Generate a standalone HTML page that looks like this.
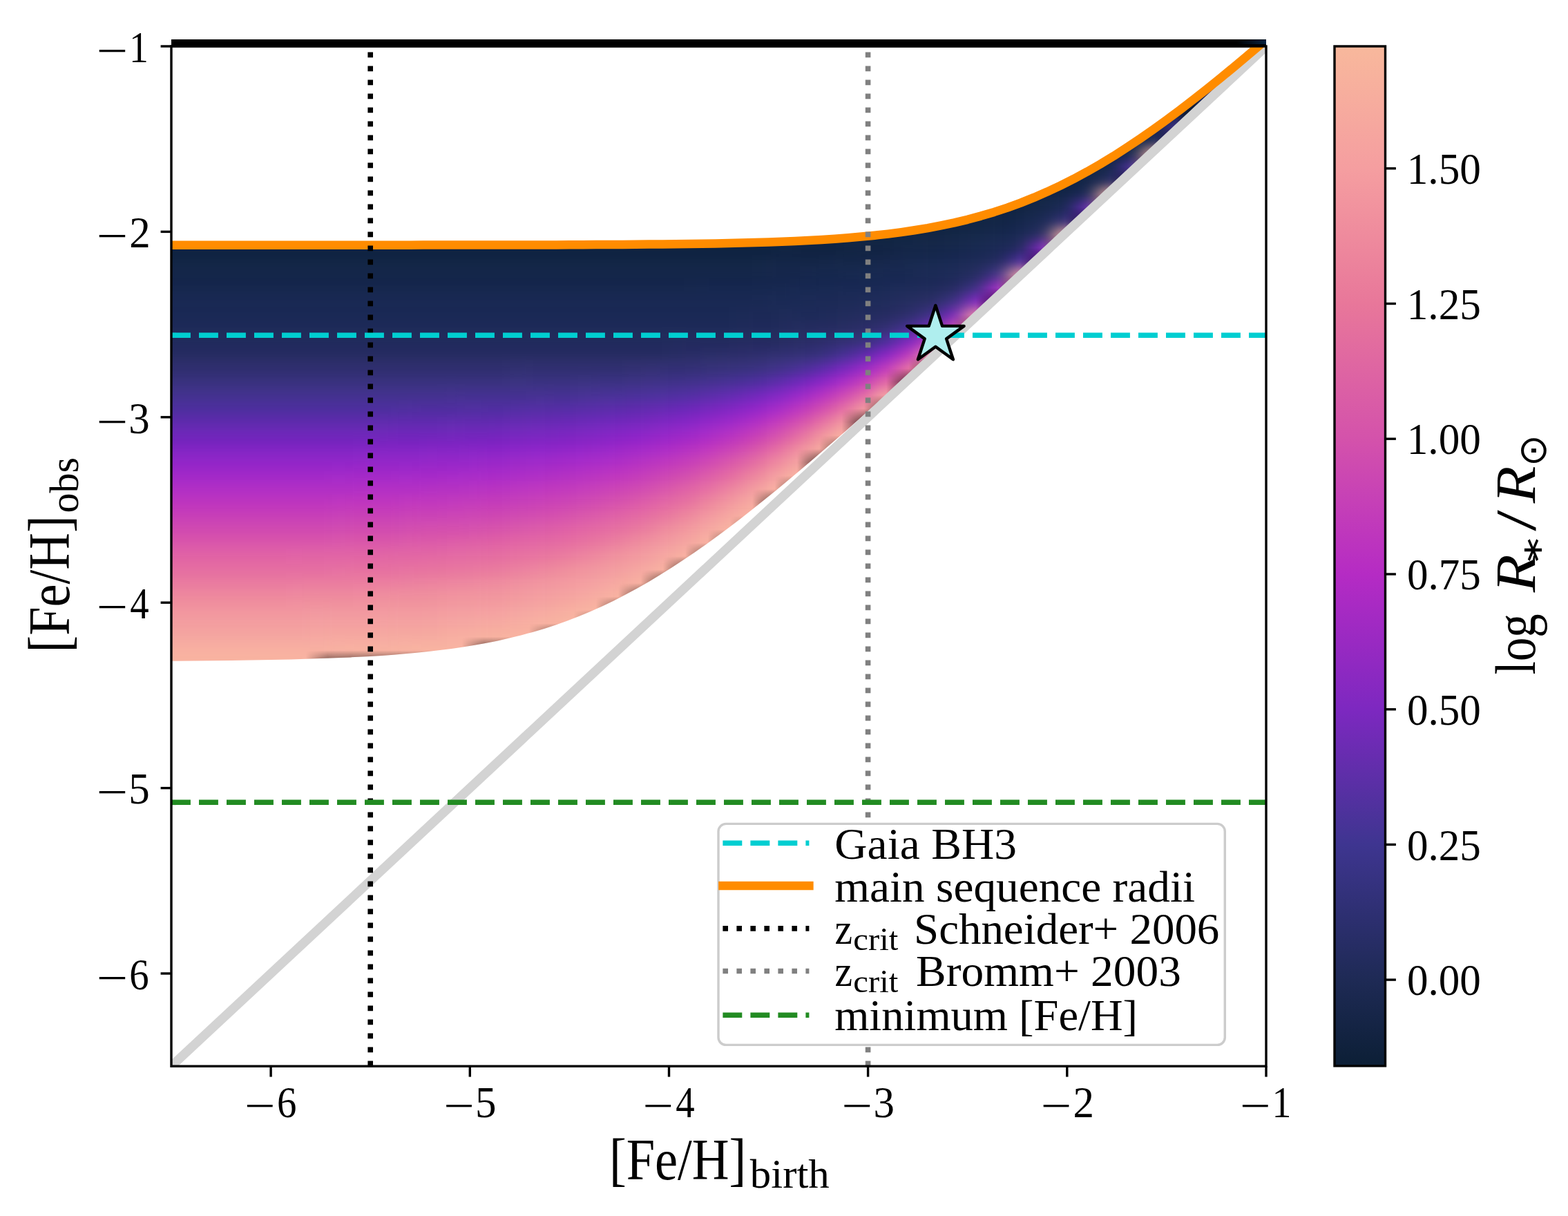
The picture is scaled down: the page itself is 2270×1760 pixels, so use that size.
<!DOCTYPE html><html><head><meta charset="utf-8"><title>[Fe/H] obs vs birth</title><style>html,body{margin:0;padding:0;background:#fff;overflow:hidden}svg{display:block}text{font-family:"Liberation Serif",serif;fill:#000}</style></head><body>
<svg xmlns="http://www.w3.org/2000/svg" width="2270" height="1760" viewBox="0 0 2270 1760">
<defs>
<clipPath id="ax"><rect x="248.0" y="67.0" width="1585.0" height="1476.2"/></clipPath>
<linearGradient id="cb" x1="0" y1="67.0" x2="0" y2="1542.8" gradientUnits="userSpaceOnUse"><stop offset="-0.0001" stop-color="#f8b89c"/><stop offset="0.1198" stop-color="#f59ea0"/><stop offset="0.2524" stop-color="#e8779a"/><stop offset="0.3850" stop-color="#d452ab"/><stop offset="0.5177" stop-color="#b52bc4"/><stop offset="0.6503" stop-color="#7d28c0"/><stop offset="0.7829" stop-color="#3e3590"/><stop offset="0.9155" stop-color="#1e2a55"/><stop offset="0.9994" stop-color="#0c1f36"/></linearGradient>
</defs>
<rect width="2270" height="1760" fill="#fff"/>
<clipPath id="reg"><path d="M248 354.7 L334.5 354.7 L420.9 354.7 L507.4 354.7 L536.2 354.7 L553 354.7 L569.7 354.7 L586.5 354.7 L603.3 354.7 L620.1 354.6 L636.9 354.6 L653.6 354.6 L670.4 354.6 L687.2 354.6 L704 354.6 L720.8 354.5 L737.5 354.5 L754.3 354.5 L771.1 354.4 L787.9 354.4 L804.7 354.4 L821.4 354.3 L838.2 354.2 L855 354.2 L871.8 354.1 L888.6 354 L905.3 353.9 L922.1 353.8 L938.9 353.6 L955.7 353.5 L972.5 353.3 L989.2 353.1 L1006 352.9 L1022.8 352.6 L1039.6 352.3 L1056.4 352 L1073.1 351.6 L1089.9 351.1 L1106.7 350.6 L1123.5 350.1 L1140.3 349.4 L1157 348.7 L1173.8 347.8 L1190.6 346.9 L1207.4 345.8 L1224.2 344.6 L1241 343.2 L1257.7 341.6 L1274.5 339.8 L1291.3 337.9 L1308.1 335.6 L1324.9 333.1 L1341.6 330.3 L1358.4 327.2 L1375.2 323.8 L1392 319.9 L1408.8 315.7 L1425.5 311 L1442.3 305.9 L1459.1 300.3 L1475.9 294.2 L1492.7 287.6 L1509.4 280.5 L1526.2 272.9 L1543 264.8 L1559.8 256.1 L1576.6 246.9 L1593.3 237.3 L1610.1 227.1 L1626.9 216.5 L1643.7 205.4 L1660.5 193.9 L1677.2 182 L1694 169.8 L1710.8 157.2 L1727.6 144.3 L1744.4 131.1 L1761.1 117.6 L1777.9 103.9 L1794.7 90 L1811.5 75.9 L1828.3 61.6 L1845 47.1 L1861.8 32.6 L1861.8 36.8 L1845 52.4 L1828.3 68 L1811.5 83.6 L1794.7 99.3 L1777.9 114.9 L1761.1 130.5 L1744.4 146.1 L1727.6 161.7 L1710.8 177.3 L1694 192.9 L1677.2 208.6 L1660.5 224.2 L1643.7 239.7 L1626.9 255.3 L1610.1 270.9 L1593.3 286.5 L1576.6 302.1 L1559.8 317.7 L1543 333.2 L1526.2 348.8 L1509.4 364.3 L1492.7 379.8 L1475.9 395.3 L1459.1 410.8 L1442.3 426.3 L1425.5 441.8 L1408.8 457.2 L1392 472.6 L1375.2 488 L1358.4 503.3 L1341.6 518.6 L1324.9 533.8 L1308.1 549 L1291.3 564.1 L1274.5 579.2 L1257.7 594.2 L1241 609.1 L1224.2 623.9 L1207.4 638.5 L1190.6 653.1 L1173.8 667.5 L1157 681.7 L1140.3 695.8 L1123.5 709.7 L1106.7 723.3 L1089.9 736.7 L1073.1 749.9 L1056.4 762.7 L1039.6 775.2 L1022.8 787.4 L1006 799.2 L989.2 810.6 L972.5 821.6 L955.7 832.1 L938.9 842.2 L922.1 851.8 L905.3 860.8 L888.6 869.4 L871.8 877.4 L855 884.9 L838.2 891.9 L821.4 898.4 L804.7 904.4 L787.9 909.9 L771.1 914.9 L754.3 919.4 L737.5 923.6 L720.8 927.4 L704 930.7 L687.2 933.8 L670.4 936.5 L653.6 939 L636.9 941.1 L620.1 943.1 L603.3 944.8 L586.5 946.3 L569.7 947.7 L553 948.9 L536.2 949.9 L507.4 951.4 L420.9 954.5 L334.5 956 L248 956.8Z"/></clipPath>
<filter id="bl" filterUnits="userSpaceOnUse" x="188.0" y="7.0" width="1705.0" height="1596.2" color-interpolation-filters="sRGB"><feGaussianBlur stdDeviation="13.21 7.93"/></filter>
<linearGradient id="ty" x1="0" y1="0" x2="0" y2="1"><stop offset="0" stop-color="#000" stop-opacity="0"/><stop offset="0.5" stop-color="#000" stop-opacity="1"/><stop offset="1" stop-color="#000" stop-opacity="0"/></linearGradient>
<linearGradient id="txg" x1="0" y1="0" x2="1" y2="0"><stop offset="0" stop-color="#000"/><stop offset="0.5" stop-color="#fff"/><stop offset="1" stop-color="#000"/></linearGradient>
<mask id="tx" maskContentUnits="objectBoundingBox"><rect width="1" height="1" fill="url(#txg)"/></mask>
<g clip-path="url(#ax)"><g clip-path="url(#reg)"><g filter="url(#bl)">
<rect x="167.1" y="989.63" width="291.1" height="19.42" fill="#f8b4a0"/>
<rect x="458.3" y="989.63" width="97.0" height="19.42" fill="#f8b0a0"/>
<rect x="555.3" y="989.63" width="64.7" height="19.42" fill="#f8b2a0"/>
<rect x="620.0" y="989.63" width="64.7" height="19.42" fill="#f8b4a0"/>
<rect x="684.7" y="989.63" width="32.3" height="19.42" fill="#f8b1a0"/>
<rect x="717.0" y="989.63" width="194.1" height="19.42" fill="#f8b3a0"/>
<rect x="911.1" y="989.63" width="129.4" height="19.42" fill="#f8b1a0"/>
<rect x="1040.5" y="989.63" width="64.7" height="19.42" fill="#f8b4a0"/>
<rect x="1105.2" y="989.63" width="32.3" height="19.42" fill="#f8afa0"/>
<rect x="1137.5" y="989.63" width="32.3" height="19.42" fill="#f8b4a0"/>
<rect x="1169.9" y="989.63" width="32.3" height="19.42" fill="#f6a9a0"/>
<rect x="1202.2" y="989.63" width="32.3" height="19.42" fill="#f8b2a0"/>
<rect x="1234.6" y="989.63" width="32.3" height="19.42" fill="#f2989e"/>
<rect x="1266.9" y="989.63" width="32.3" height="19.42" fill="#f6a9a0"/>
<rect x="1299.3" y="989.63" width="32.3" height="19.42" fill="#e7719f"/>
<rect x="1331.6" y="989.63" width="32.3" height="19.42" fill="#f39d9f"/>
<rect x="1364.0" y="989.63" width="32.3" height="19.42" fill="#cc44b3"/>
<rect x="1396.3" y="989.63" width="32.3" height="19.42" fill="#f1949e"/>
<rect x="1428.7" y="989.63" width="32.3" height="19.42" fill="#a127c8"/>
<rect x="1461.0" y="989.63" width="32.3" height="19.42" fill="#f7aaa0"/>
<rect x="1493.4" y="989.63" width="32.3" height="19.42" fill="#8023c3"/>
<rect x="1525.7" y="989.63" width="32.3" height="19.42" fill="#f8b4a0"/>
<rect x="1558.1" y="989.63" width="32.3" height="19.42" fill="#6227b1"/>
<rect x="1590.4" y="989.63" width="32.3" height="19.42" fill="#f8b4a0"/>
<rect x="1622.7" y="989.63" width="32.3" height="19.42" fill="#4b2d9d"/>
<rect x="1655.1" y="989.63" width="32.3" height="19.42" fill="#f8b4a0"/>
<rect x="1687.4" y="989.63" width="32.3" height="19.42" fill="#452e93"/>
<rect x="1719.8" y="989.63" width="32.3" height="19.42" fill="#13254b"/>
<rect x="1752.1" y="989.63" width="32.3" height="19.42" fill="#542ba5"/>
<rect x="1784.5" y="989.63" width="32.3" height="19.42" fill="#0f2241"/>
<rect x="1816.8" y="989.63" width="97.0" height="19.42" fill="#f8b4a0"/>
<rect x="167.1" y="970.20" width="291.1" height="19.42" fill="#f8b4a0"/>
<rect x="458.3" y="970.20" width="97.0" height="19.42" fill="#f8b0a0"/>
<rect x="555.3" y="970.20" width="64.7" height="19.42" fill="#f8b2a0"/>
<rect x="620.0" y="970.20" width="64.7" height="19.42" fill="#f8b4a0"/>
<rect x="684.7" y="970.20" width="32.3" height="19.42" fill="#f8b1a0"/>
<rect x="717.0" y="970.20" width="194.1" height="19.42" fill="#f8b3a0"/>
<rect x="911.1" y="970.20" width="129.4" height="19.42" fill="#f8b1a0"/>
<rect x="1040.5" y="970.20" width="64.7" height="19.42" fill="#f8b4a0"/>
<rect x="1105.2" y="970.20" width="32.3" height="19.42" fill="#f8afa0"/>
<rect x="1137.5" y="970.20" width="32.3" height="19.42" fill="#f8b4a0"/>
<rect x="1169.9" y="970.20" width="32.3" height="19.42" fill="#f6a9a0"/>
<rect x="1202.2" y="970.20" width="32.3" height="19.42" fill="#f8b2a0"/>
<rect x="1234.6" y="970.20" width="32.3" height="19.42" fill="#f2989e"/>
<rect x="1266.9" y="970.20" width="32.3" height="19.42" fill="#f6a9a0"/>
<rect x="1299.3" y="970.20" width="32.3" height="19.42" fill="#e7719f"/>
<rect x="1331.6" y="970.20" width="32.3" height="19.42" fill="#f39d9f"/>
<rect x="1364.0" y="970.20" width="32.3" height="19.42" fill="#cc44b3"/>
<rect x="1396.3" y="970.20" width="32.3" height="19.42" fill="#f1949e"/>
<rect x="1428.7" y="970.20" width="32.3" height="19.42" fill="#a127c8"/>
<rect x="1461.0" y="970.20" width="32.3" height="19.42" fill="#f7aaa0"/>
<rect x="1493.4" y="970.20" width="32.3" height="19.42" fill="#8023c3"/>
<rect x="1525.7" y="970.20" width="32.3" height="19.42" fill="#f8b4a0"/>
<rect x="1558.1" y="970.20" width="32.3" height="19.42" fill="#6227b1"/>
<rect x="1590.4" y="970.20" width="32.3" height="19.42" fill="#f8b4a0"/>
<rect x="1622.7" y="970.20" width="32.3" height="19.42" fill="#4b2d9d"/>
<rect x="1655.1" y="970.20" width="32.3" height="19.42" fill="#f8b4a0"/>
<rect x="1687.4" y="970.20" width="32.3" height="19.42" fill="#452e93"/>
<rect x="1719.8" y="970.20" width="32.3" height="19.42" fill="#13254b"/>
<rect x="1752.1" y="970.20" width="32.3" height="19.42" fill="#542ba5"/>
<rect x="1784.5" y="970.20" width="32.3" height="19.42" fill="#0f2241"/>
<rect x="1816.8" y="970.20" width="97.0" height="19.42" fill="#f8b4a0"/>
<rect x="167.1" y="950.78" width="291.1" height="19.42" fill="#f8b4a0"/>
<rect x="458.3" y="950.78" width="97.0" height="19.42" fill="#f8b0a0"/>
<rect x="555.3" y="950.78" width="64.7" height="19.42" fill="#f8b2a0"/>
<rect x="620.0" y="950.78" width="64.7" height="19.42" fill="#f8b4a0"/>
<rect x="684.7" y="950.78" width="32.3" height="19.42" fill="#f8b1a0"/>
<rect x="717.0" y="950.78" width="194.1" height="19.42" fill="#f8b3a0"/>
<rect x="911.1" y="950.78" width="129.4" height="19.42" fill="#f8b1a0"/>
<rect x="1040.5" y="950.78" width="64.7" height="19.42" fill="#f8b4a0"/>
<rect x="1105.2" y="950.78" width="32.3" height="19.42" fill="#f8afa0"/>
<rect x="1137.5" y="950.78" width="32.3" height="19.42" fill="#f8b4a0"/>
<rect x="1169.9" y="950.78" width="32.3" height="19.42" fill="#f6a9a0"/>
<rect x="1202.2" y="950.78" width="32.3" height="19.42" fill="#f8b2a0"/>
<rect x="1234.6" y="950.78" width="32.3" height="19.42" fill="#f2989e"/>
<rect x="1266.9" y="950.78" width="32.3" height="19.42" fill="#f6a9a0"/>
<rect x="1299.3" y="950.78" width="32.3" height="19.42" fill="#e7719f"/>
<rect x="1331.6" y="950.78" width="32.3" height="19.42" fill="#f39d9f"/>
<rect x="1364.0" y="950.78" width="32.3" height="19.42" fill="#cc44b3"/>
<rect x="1396.3" y="950.78" width="32.3" height="19.42" fill="#f1949e"/>
<rect x="1428.7" y="950.78" width="32.3" height="19.42" fill="#a127c8"/>
<rect x="1461.0" y="950.78" width="32.3" height="19.42" fill="#f7aaa0"/>
<rect x="1493.4" y="950.78" width="32.3" height="19.42" fill="#8023c3"/>
<rect x="1525.7" y="950.78" width="32.3" height="19.42" fill="#f8b4a0"/>
<rect x="1558.1" y="950.78" width="32.3" height="19.42" fill="#6227b1"/>
<rect x="1590.4" y="950.78" width="32.3" height="19.42" fill="#f8b4a0"/>
<rect x="1622.7" y="950.78" width="32.3" height="19.42" fill="#4b2d9d"/>
<rect x="1655.1" y="950.78" width="32.3" height="19.42" fill="#f8b4a0"/>
<rect x="1687.4" y="950.78" width="32.3" height="19.42" fill="#452e93"/>
<rect x="1719.8" y="950.78" width="32.3" height="19.42" fill="#13254b"/>
<rect x="1752.1" y="950.78" width="32.3" height="19.42" fill="#542ba5"/>
<rect x="1784.5" y="950.78" width="32.3" height="19.42" fill="#0f2241"/>
<rect x="1816.8" y="950.78" width="97.0" height="19.42" fill="#f8b4a0"/>
<rect x="167.1" y="931.35" width="323.5" height="19.42" fill="#f8afa0"/>
<rect x="490.6" y="931.35" width="97.0" height="19.42" fill="#f8b1a0"/>
<rect x="587.6" y="931.35" width="97.0" height="19.42" fill="#f8b3a0"/>
<rect x="684.7" y="931.35" width="32.3" height="19.42" fill="#f8b1a0"/>
<rect x="717.0" y="931.35" width="194.1" height="19.42" fill="#f8b3a0"/>
<rect x="911.1" y="931.35" width="129.4" height="19.42" fill="#f8b1a0"/>
<rect x="1040.5" y="931.35" width="64.7" height="19.42" fill="#f8b4a0"/>
<rect x="1105.2" y="931.35" width="32.3" height="19.42" fill="#f8afa0"/>
<rect x="1137.5" y="931.35" width="32.3" height="19.42" fill="#f8b4a0"/>
<rect x="1169.9" y="931.35" width="32.3" height="19.42" fill="#f6a9a0"/>
<rect x="1202.2" y="931.35" width="32.3" height="19.42" fill="#f8b2a0"/>
<rect x="1234.6" y="931.35" width="32.3" height="19.42" fill="#f2989e"/>
<rect x="1266.9" y="931.35" width="32.3" height="19.42" fill="#f6a9a0"/>
<rect x="1299.3" y="931.35" width="32.3" height="19.42" fill="#e7719f"/>
<rect x="1331.6" y="931.35" width="32.3" height="19.42" fill="#f39d9f"/>
<rect x="1364.0" y="931.35" width="32.3" height="19.42" fill="#cc44b3"/>
<rect x="1396.3" y="931.35" width="32.3" height="19.42" fill="#f1949e"/>
<rect x="1428.7" y="931.35" width="32.3" height="19.42" fill="#a127c8"/>
<rect x="1461.0" y="931.35" width="32.3" height="19.42" fill="#f7aaa0"/>
<rect x="1493.4" y="931.35" width="32.3" height="19.42" fill="#8023c3"/>
<rect x="1525.7" y="931.35" width="32.3" height="19.42" fill="#f8b4a0"/>
<rect x="1558.1" y="931.35" width="32.3" height="19.42" fill="#6227b1"/>
<rect x="1590.4" y="931.35" width="32.3" height="19.42" fill="#f8b4a0"/>
<rect x="1622.7" y="931.35" width="32.3" height="19.42" fill="#4b2d9d"/>
<rect x="1655.1" y="931.35" width="32.3" height="19.42" fill="#f8b4a0"/>
<rect x="1687.4" y="931.35" width="32.3" height="19.42" fill="#452e93"/>
<rect x="1719.8" y="931.35" width="32.3" height="19.42" fill="#13254b"/>
<rect x="1752.1" y="931.35" width="32.3" height="19.42" fill="#542ba5"/>
<rect x="1784.5" y="931.35" width="32.3" height="19.42" fill="#0f2241"/>
<rect x="1816.8" y="931.35" width="97.0" height="19.42" fill="#f8b4a0"/>
<rect x="167.1" y="911.93" width="291.1" height="19.42" fill="#f5a6a0"/>
<rect x="458.3" y="911.93" width="97.0" height="19.42" fill="#f6a8a0"/>
<rect x="555.3" y="911.93" width="64.7" height="19.42" fill="#f6aaa0"/>
<rect x="620.0" y="911.93" width="32.3" height="19.42" fill="#f7aca0"/>
<rect x="652.3" y="911.93" width="32.3" height="19.42" fill="#f8aea0"/>
<rect x="684.7" y="911.93" width="32.3" height="19.42" fill="#f8b1a0"/>
<rect x="717.0" y="911.93" width="194.1" height="19.42" fill="#f8b3a0"/>
<rect x="911.1" y="911.93" width="129.4" height="19.42" fill="#f8b1a0"/>
<rect x="1040.5" y="911.93" width="64.7" height="19.42" fill="#f8b4a0"/>
<rect x="1105.2" y="911.93" width="32.3" height="19.42" fill="#f8afa0"/>
<rect x="1137.5" y="911.93" width="32.3" height="19.42" fill="#f8b4a0"/>
<rect x="1169.9" y="911.93" width="32.3" height="19.42" fill="#f6a9a0"/>
<rect x="1202.2" y="911.93" width="32.3" height="19.42" fill="#f8b2a0"/>
<rect x="1234.6" y="911.93" width="32.3" height="19.42" fill="#f2989e"/>
<rect x="1266.9" y="911.93" width="32.3" height="19.42" fill="#f6a9a0"/>
<rect x="1299.3" y="911.93" width="32.3" height="19.42" fill="#e7719f"/>
<rect x="1331.6" y="911.93" width="32.3" height="19.42" fill="#f39d9f"/>
<rect x="1364.0" y="911.93" width="32.3" height="19.42" fill="#cc44b3"/>
<rect x="1396.3" y="911.93" width="32.3" height="19.42" fill="#f1949e"/>
<rect x="1428.7" y="911.93" width="32.3" height="19.42" fill="#a127c8"/>
<rect x="1461.0" y="911.93" width="32.3" height="19.42" fill="#f7aaa0"/>
<rect x="1493.4" y="911.93" width="32.3" height="19.42" fill="#8023c3"/>
<rect x="1525.7" y="911.93" width="32.3" height="19.42" fill="#f8b4a0"/>
<rect x="1558.1" y="911.93" width="32.3" height="19.42" fill="#6227b1"/>
<rect x="1590.4" y="911.93" width="32.3" height="19.42" fill="#f8b4a0"/>
<rect x="1622.7" y="911.93" width="32.3" height="19.42" fill="#4b2d9d"/>
<rect x="1655.1" y="911.93" width="32.3" height="19.42" fill="#f8b4a0"/>
<rect x="1687.4" y="911.93" width="32.3" height="19.42" fill="#452e93"/>
<rect x="1719.8" y="911.93" width="32.3" height="19.42" fill="#13254b"/>
<rect x="1752.1" y="911.93" width="32.3" height="19.42" fill="#542ba5"/>
<rect x="1784.5" y="911.93" width="32.3" height="19.42" fill="#0f2241"/>
<rect x="1816.8" y="911.93" width="97.0" height="19.42" fill="#f8b4a0"/>
<rect x="167.1" y="892.51" width="291.1" height="19.42" fill="#f39d9f"/>
<rect x="458.3" y="892.51" width="97.0" height="19.42" fill="#f49fa0"/>
<rect x="555.3" y="892.51" width="64.7" height="19.42" fill="#f4a1a0"/>
<rect x="620.0" y="892.51" width="32.3" height="19.42" fill="#f5a3a0"/>
<rect x="652.3" y="892.51" width="32.3" height="19.42" fill="#f5a5a0"/>
<rect x="684.7" y="892.51" width="32.3" height="19.42" fill="#f6a8a0"/>
<rect x="717.0" y="892.51" width="32.3" height="19.42" fill="#f7aaa0"/>
<rect x="749.4" y="892.51" width="32.3" height="19.42" fill="#f8aea0"/>
<rect x="781.7" y="892.51" width="32.3" height="19.42" fill="#f8b2a0"/>
<rect x="814.1" y="892.51" width="64.7" height="19.42" fill="#f8b4a0"/>
<rect x="878.8" y="892.51" width="161.7" height="19.42" fill="#f8b2a0"/>
<rect x="1040.5" y="892.51" width="64.7" height="19.42" fill="#f8b4a0"/>
<rect x="1105.2" y="892.51" width="32.3" height="19.42" fill="#f8afa0"/>
<rect x="1137.5" y="892.51" width="32.3" height="19.42" fill="#f8b4a0"/>
<rect x="1169.9" y="892.51" width="32.3" height="19.42" fill="#f6a9a0"/>
<rect x="1202.2" y="892.51" width="32.3" height="19.42" fill="#f8b2a0"/>
<rect x="1234.6" y="892.51" width="32.3" height="19.42" fill="#f2989e"/>
<rect x="1266.9" y="892.51" width="32.3" height="19.42" fill="#f6a9a0"/>
<rect x="1299.3" y="892.51" width="32.3" height="19.42" fill="#e7719f"/>
<rect x="1331.6" y="892.51" width="32.3" height="19.42" fill="#f39d9f"/>
<rect x="1364.0" y="892.51" width="32.3" height="19.42" fill="#cc44b3"/>
<rect x="1396.3" y="892.51" width="32.3" height="19.42" fill="#f1949e"/>
<rect x="1428.7" y="892.51" width="32.3" height="19.42" fill="#a127c8"/>
<rect x="1461.0" y="892.51" width="32.3" height="19.42" fill="#f7aaa0"/>
<rect x="1493.4" y="892.51" width="32.3" height="19.42" fill="#8023c3"/>
<rect x="1525.7" y="892.51" width="32.3" height="19.42" fill="#f8b4a0"/>
<rect x="1558.1" y="892.51" width="32.3" height="19.42" fill="#6227b1"/>
<rect x="1590.4" y="892.51" width="32.3" height="19.42" fill="#f8b4a0"/>
<rect x="1622.7" y="892.51" width="32.3" height="19.42" fill="#4b2d9d"/>
<rect x="1655.1" y="892.51" width="32.3" height="19.42" fill="#f8b4a0"/>
<rect x="1687.4" y="892.51" width="32.3" height="19.42" fill="#452e93"/>
<rect x="1719.8" y="892.51" width="32.3" height="19.42" fill="#13254b"/>
<rect x="1752.1" y="892.51" width="32.3" height="19.42" fill="#542ba5"/>
<rect x="1784.5" y="892.51" width="32.3" height="19.42" fill="#0f2241"/>
<rect x="1816.8" y="892.51" width="97.0" height="19.42" fill="#f8b4a0"/>
<rect x="167.1" y="873.08" width="291.1" height="19.42" fill="#f1949e"/>
<rect x="458.3" y="873.08" width="97.0" height="19.42" fill="#f1969e"/>
<rect x="555.3" y="873.08" width="64.7" height="19.42" fill="#f2989e"/>
<rect x="620.0" y="873.08" width="32.3" height="19.42" fill="#f39a9f"/>
<rect x="652.3" y="873.08" width="32.3" height="19.42" fill="#f39c9f"/>
<rect x="684.7" y="873.08" width="32.3" height="19.42" fill="#f49ea0"/>
<rect x="717.0" y="873.08" width="32.3" height="19.42" fill="#f4a1a0"/>
<rect x="749.4" y="873.08" width="32.3" height="19.42" fill="#f5a5a0"/>
<rect x="781.7" y="873.08" width="32.3" height="19.42" fill="#f6a9a0"/>
<rect x="814.1" y="873.08" width="32.3" height="19.42" fill="#f8afa0"/>
<rect x="846.4" y="873.08" width="32.3" height="19.42" fill="#f8b4a0"/>
<rect x="878.8" y="873.08" width="161.7" height="19.42" fill="#f8b2a0"/>
<rect x="1040.5" y="873.08" width="64.7" height="19.42" fill="#f8b4a0"/>
<rect x="1105.2" y="873.08" width="32.3" height="19.42" fill="#f8afa0"/>
<rect x="1137.5" y="873.08" width="32.3" height="19.42" fill="#f8b4a0"/>
<rect x="1169.9" y="873.08" width="32.3" height="19.42" fill="#f6a9a0"/>
<rect x="1202.2" y="873.08" width="32.3" height="19.42" fill="#f8b2a0"/>
<rect x="1234.6" y="873.08" width="32.3" height="19.42" fill="#f2989e"/>
<rect x="1266.9" y="873.08" width="32.3" height="19.42" fill="#f6a9a0"/>
<rect x="1299.3" y="873.08" width="32.3" height="19.42" fill="#e7719f"/>
<rect x="1331.6" y="873.08" width="32.3" height="19.42" fill="#f39d9f"/>
<rect x="1364.0" y="873.08" width="32.3" height="19.42" fill="#cc44b3"/>
<rect x="1396.3" y="873.08" width="32.3" height="19.42" fill="#f1949e"/>
<rect x="1428.7" y="873.08" width="32.3" height="19.42" fill="#a127c8"/>
<rect x="1461.0" y="873.08" width="32.3" height="19.42" fill="#f7aaa0"/>
<rect x="1493.4" y="873.08" width="32.3" height="19.42" fill="#8023c3"/>
<rect x="1525.7" y="873.08" width="32.3" height="19.42" fill="#f8b4a0"/>
<rect x="1558.1" y="873.08" width="32.3" height="19.42" fill="#6227b1"/>
<rect x="1590.4" y="873.08" width="32.3" height="19.42" fill="#f8b4a0"/>
<rect x="1622.7" y="873.08" width="32.3" height="19.42" fill="#4b2d9d"/>
<rect x="1655.1" y="873.08" width="32.3" height="19.42" fill="#f8b4a0"/>
<rect x="1687.4" y="873.08" width="32.3" height="19.42" fill="#452e93"/>
<rect x="1719.8" y="873.08" width="32.3" height="19.42" fill="#13254b"/>
<rect x="1752.1" y="873.08" width="32.3" height="19.42" fill="#542ba5"/>
<rect x="1784.5" y="873.08" width="32.3" height="19.42" fill="#0f2241"/>
<rect x="1816.8" y="873.08" width="97.0" height="19.42" fill="#f8b4a0"/>
<rect x="167.1" y="853.66" width="258.8" height="19.42" fill="#ee889d"/>
<rect x="425.9" y="853.66" width="97.0" height="19.42" fill="#ee8a9d"/>
<rect x="522.9" y="853.66" width="32.3" height="19.42" fill="#ef8c9d"/>
<rect x="555.3" y="853.66" width="64.7" height="19.42" fill="#ef8e9d"/>
<rect x="620.0" y="853.66" width="32.3" height="19.42" fill="#f0919d"/>
<rect x="652.3" y="853.66" width="32.3" height="19.42" fill="#f1939d"/>
<rect x="684.7" y="853.66" width="32.3" height="19.42" fill="#f1959e"/>
<rect x="717.0" y="853.66" width="32.3" height="19.42" fill="#f2979e"/>
<rect x="749.4" y="853.66" width="32.3" height="19.42" fill="#f39b9f"/>
<rect x="781.7" y="853.66" width="32.3" height="19.42" fill="#f49fa0"/>
<rect x="814.1" y="853.66" width="32.3" height="19.42" fill="#f5a4a0"/>
<rect x="846.4" y="853.66" width="32.3" height="19.42" fill="#f7aba0"/>
<rect x="878.8" y="853.66" width="161.7" height="19.42" fill="#f8b2a0"/>
<rect x="1040.5" y="853.66" width="64.7" height="19.42" fill="#f8b4a0"/>
<rect x="1105.2" y="853.66" width="32.3" height="19.42" fill="#f8afa0"/>
<rect x="1137.5" y="853.66" width="32.3" height="19.42" fill="#f8b4a0"/>
<rect x="1169.9" y="853.66" width="32.3" height="19.42" fill="#f6a9a0"/>
<rect x="1202.2" y="853.66" width="32.3" height="19.42" fill="#f8b2a0"/>
<rect x="1234.6" y="853.66" width="32.3" height="19.42" fill="#f2989e"/>
<rect x="1266.9" y="853.66" width="32.3" height="19.42" fill="#f6a9a0"/>
<rect x="1299.3" y="853.66" width="32.3" height="19.42" fill="#e7719f"/>
<rect x="1331.6" y="853.66" width="32.3" height="19.42" fill="#f39d9f"/>
<rect x="1364.0" y="853.66" width="32.3" height="19.42" fill="#cc44b3"/>
<rect x="1396.3" y="853.66" width="32.3" height="19.42" fill="#f1949e"/>
<rect x="1428.7" y="853.66" width="32.3" height="19.42" fill="#a127c8"/>
<rect x="1461.0" y="853.66" width="32.3" height="19.42" fill="#f7aaa0"/>
<rect x="1493.4" y="853.66" width="32.3" height="19.42" fill="#8023c3"/>
<rect x="1525.7" y="853.66" width="32.3" height="19.42" fill="#f8b4a0"/>
<rect x="1558.1" y="853.66" width="32.3" height="19.42" fill="#6227b1"/>
<rect x="1590.4" y="853.66" width="32.3" height="19.42" fill="#f8b4a0"/>
<rect x="1622.7" y="853.66" width="32.3" height="19.42" fill="#4b2d9d"/>
<rect x="1655.1" y="853.66" width="32.3" height="19.42" fill="#f8b4a0"/>
<rect x="1687.4" y="853.66" width="32.3" height="19.42" fill="#452e93"/>
<rect x="1719.8" y="853.66" width="32.3" height="19.42" fill="#13254b"/>
<rect x="1752.1" y="853.66" width="32.3" height="19.42" fill="#542ba5"/>
<rect x="1784.5" y="853.66" width="32.3" height="19.42" fill="#0f2241"/>
<rect x="1816.8" y="853.66" width="97.0" height="19.42" fill="#f8b4a0"/>
<rect x="167.1" y="834.24" width="258.8" height="19.42" fill="#e9799e"/>
<rect x="425.9" y="834.24" width="97.0" height="19.42" fill="#ea7b9e"/>
<rect x="522.9" y="834.24" width="64.7" height="19.42" fill="#eb7d9e"/>
<rect x="587.6" y="834.24" width="32.3" height="19.42" fill="#eb809e"/>
<rect x="620.0" y="834.24" width="32.3" height="19.42" fill="#ec829e"/>
<rect x="652.3" y="834.24" width="32.3" height="19.42" fill="#ed859d"/>
<rect x="684.7" y="834.24" width="32.3" height="19.42" fill="#ee889d"/>
<rect x="717.0" y="834.24" width="32.3" height="19.42" fill="#ef8c9d"/>
<rect x="749.4" y="834.24" width="32.3" height="19.42" fill="#f0919d"/>
<rect x="781.7" y="834.24" width="32.3" height="19.42" fill="#f1959e"/>
<rect x="814.1" y="834.24" width="32.3" height="19.42" fill="#f39a9f"/>
<rect x="846.4" y="834.24" width="32.3" height="19.42" fill="#f4a0a0"/>
<rect x="878.8" y="834.24" width="32.3" height="19.42" fill="#f6a8a0"/>
<rect x="911.1" y="834.24" width="129.4" height="19.42" fill="#f8b1a0"/>
<rect x="1040.5" y="834.24" width="64.7" height="19.42" fill="#f8b4a0"/>
<rect x="1105.2" y="834.24" width="32.3" height="19.42" fill="#f8afa0"/>
<rect x="1137.5" y="834.24" width="32.3" height="19.42" fill="#f8b4a0"/>
<rect x="1169.9" y="834.24" width="32.3" height="19.42" fill="#f6a9a0"/>
<rect x="1202.2" y="834.24" width="32.3" height="19.42" fill="#f8b2a0"/>
<rect x="1234.6" y="834.24" width="32.3" height="19.42" fill="#f2989e"/>
<rect x="1266.9" y="834.24" width="32.3" height="19.42" fill="#f6a9a0"/>
<rect x="1299.3" y="834.24" width="32.3" height="19.42" fill="#e7719f"/>
<rect x="1331.6" y="834.24" width="32.3" height="19.42" fill="#f39d9f"/>
<rect x="1364.0" y="834.24" width="32.3" height="19.42" fill="#cc44b3"/>
<rect x="1396.3" y="834.24" width="32.3" height="19.42" fill="#f1949e"/>
<rect x="1428.7" y="834.24" width="32.3" height="19.42" fill="#a127c8"/>
<rect x="1461.0" y="834.24" width="32.3" height="19.42" fill="#f7aaa0"/>
<rect x="1493.4" y="834.24" width="32.3" height="19.42" fill="#8023c3"/>
<rect x="1525.7" y="834.24" width="32.3" height="19.42" fill="#f8b4a0"/>
<rect x="1558.1" y="834.24" width="32.3" height="19.42" fill="#6227b1"/>
<rect x="1590.4" y="834.24" width="32.3" height="19.42" fill="#f8b4a0"/>
<rect x="1622.7" y="834.24" width="32.3" height="19.42" fill="#4b2d9d"/>
<rect x="1655.1" y="834.24" width="32.3" height="19.42" fill="#f8b4a0"/>
<rect x="1687.4" y="834.24" width="32.3" height="19.42" fill="#452e93"/>
<rect x="1719.8" y="834.24" width="32.3" height="19.42" fill="#13254b"/>
<rect x="1752.1" y="834.24" width="32.3" height="19.42" fill="#542ba5"/>
<rect x="1784.5" y="834.24" width="32.3" height="19.42" fill="#0f2241"/>
<rect x="1816.8" y="834.24" width="97.0" height="19.42" fill="#f8b4a0"/>
<rect x="167.1" y="814.81" width="323.5" height="19.42" fill="#e56da1"/>
<rect x="490.6" y="814.81" width="97.0" height="19.42" fill="#e66fa0"/>
<rect x="587.6" y="814.81" width="32.3" height="19.42" fill="#e7719f"/>
<rect x="620.0" y="814.81" width="32.3" height="19.42" fill="#e7739e"/>
<rect x="652.3" y="814.81" width="32.3" height="19.42" fill="#e8759e"/>
<rect x="684.7" y="814.81" width="32.3" height="19.42" fill="#e9789e"/>
<rect x="717.0" y="814.81" width="32.3" height="19.42" fill="#ea7c9e"/>
<rect x="749.4" y="814.81" width="32.3" height="19.42" fill="#ec819e"/>
<rect x="781.7" y="814.81" width="32.3" height="19.42" fill="#ee889d"/>
<rect x="814.1" y="814.81" width="32.3" height="19.42" fill="#f0909d"/>
<rect x="846.4" y="814.81" width="32.3" height="19.42" fill="#f1969e"/>
<rect x="878.8" y="814.81" width="32.3" height="19.42" fill="#f39d9f"/>
<rect x="911.1" y="814.81" width="32.3" height="19.42" fill="#f5a6a0"/>
<rect x="943.5" y="814.81" width="97.0" height="19.42" fill="#f8b1a0"/>
<rect x="1040.5" y="814.81" width="64.7" height="19.42" fill="#f8b4a0"/>
<rect x="1105.2" y="814.81" width="32.3" height="19.42" fill="#f8afa0"/>
<rect x="1137.5" y="814.81" width="32.3" height="19.42" fill="#f8b4a0"/>
<rect x="1169.9" y="814.81" width="32.3" height="19.42" fill="#f6a9a0"/>
<rect x="1202.2" y="814.81" width="32.3" height="19.42" fill="#f8b2a0"/>
<rect x="1234.6" y="814.81" width="32.3" height="19.42" fill="#f2989e"/>
<rect x="1266.9" y="814.81" width="32.3" height="19.42" fill="#f6a9a0"/>
<rect x="1299.3" y="814.81" width="32.3" height="19.42" fill="#e7719f"/>
<rect x="1331.6" y="814.81" width="32.3" height="19.42" fill="#f39d9f"/>
<rect x="1364.0" y="814.81" width="32.3" height="19.42" fill="#cc44b3"/>
<rect x="1396.3" y="814.81" width="32.3" height="19.42" fill="#f1949e"/>
<rect x="1428.7" y="814.81" width="32.3" height="19.42" fill="#a127c8"/>
<rect x="1461.0" y="814.81" width="32.3" height="19.42" fill="#f7aaa0"/>
<rect x="1493.4" y="814.81" width="32.3" height="19.42" fill="#8023c3"/>
<rect x="1525.7" y="814.81" width="32.3" height="19.42" fill="#f8b4a0"/>
<rect x="1558.1" y="814.81" width="32.3" height="19.42" fill="#6227b1"/>
<rect x="1590.4" y="814.81" width="32.3" height="19.42" fill="#f8b4a0"/>
<rect x="1622.7" y="814.81" width="32.3" height="19.42" fill="#4b2d9d"/>
<rect x="1655.1" y="814.81" width="32.3" height="19.42" fill="#f8b4a0"/>
<rect x="1687.4" y="814.81" width="32.3" height="19.42" fill="#452e93"/>
<rect x="1719.8" y="814.81" width="32.3" height="19.42" fill="#13254b"/>
<rect x="1752.1" y="814.81" width="32.3" height="19.42" fill="#542ba5"/>
<rect x="1784.5" y="814.81" width="32.3" height="19.42" fill="#0f2241"/>
<rect x="1816.8" y="814.81" width="97.0" height="19.42" fill="#f8b4a0"/>
<rect x="167.1" y="795.39" width="258.8" height="19.42" fill="#e161a4"/>
<rect x="425.9" y="795.39" width="129.4" height="19.42" fill="#e163a4"/>
<rect x="555.3" y="795.39" width="64.7" height="19.42" fill="#e265a3"/>
<rect x="620.0" y="795.39" width="32.3" height="19.42" fill="#e367a2"/>
<rect x="652.3" y="795.39" width="32.3" height="19.42" fill="#e469a2"/>
<rect x="684.7" y="795.39" width="32.3" height="19.42" fill="#e46ba1"/>
<rect x="717.0" y="795.39" width="32.3" height="19.42" fill="#e66ea0"/>
<rect x="749.4" y="795.39" width="32.3" height="19.42" fill="#e7719f"/>
<rect x="781.7" y="795.39" width="32.3" height="19.42" fill="#e9769e"/>
<rect x="814.1" y="795.39" width="32.3" height="19.42" fill="#eb7e9e"/>
<rect x="846.4" y="795.39" width="32.3" height="19.42" fill="#ee879d"/>
<rect x="878.8" y="795.39" width="32.3" height="19.42" fill="#f0929d"/>
<rect x="911.1" y="795.39" width="32.3" height="19.42" fill="#f39a9f"/>
<rect x="943.5" y="795.39" width="32.3" height="19.42" fill="#f5a5a0"/>
<rect x="975.8" y="795.39" width="64.7" height="19.42" fill="#f8b1a0"/>
<rect x="1040.5" y="795.39" width="64.7" height="19.42" fill="#f8b4a0"/>
<rect x="1105.2" y="795.39" width="32.3" height="19.42" fill="#f8afa0"/>
<rect x="1137.5" y="795.39" width="32.3" height="19.42" fill="#f8b4a0"/>
<rect x="1169.9" y="795.39" width="32.3" height="19.42" fill="#f6a9a0"/>
<rect x="1202.2" y="795.39" width="32.3" height="19.42" fill="#f8b2a0"/>
<rect x="1234.6" y="795.39" width="32.3" height="19.42" fill="#f2989e"/>
<rect x="1266.9" y="795.39" width="32.3" height="19.42" fill="#f6a9a0"/>
<rect x="1299.3" y="795.39" width="32.3" height="19.42" fill="#e7719f"/>
<rect x="1331.6" y="795.39" width="32.3" height="19.42" fill="#f39d9f"/>
<rect x="1364.0" y="795.39" width="32.3" height="19.42" fill="#cc44b3"/>
<rect x="1396.3" y="795.39" width="32.3" height="19.42" fill="#f1949e"/>
<rect x="1428.7" y="795.39" width="32.3" height="19.42" fill="#a127c8"/>
<rect x="1461.0" y="795.39" width="32.3" height="19.42" fill="#f7aaa0"/>
<rect x="1493.4" y="795.39" width="32.3" height="19.42" fill="#8023c3"/>
<rect x="1525.7" y="795.39" width="32.3" height="19.42" fill="#f8b4a0"/>
<rect x="1558.1" y="795.39" width="32.3" height="19.42" fill="#6227b1"/>
<rect x="1590.4" y="795.39" width="32.3" height="19.42" fill="#f8b4a0"/>
<rect x="1622.7" y="795.39" width="32.3" height="19.42" fill="#4b2d9d"/>
<rect x="1655.1" y="795.39" width="32.3" height="19.42" fill="#f8b4a0"/>
<rect x="1687.4" y="795.39" width="32.3" height="19.42" fill="#452e93"/>
<rect x="1719.8" y="795.39" width="32.3" height="19.42" fill="#13254b"/>
<rect x="1752.1" y="795.39" width="32.3" height="19.42" fill="#542ba5"/>
<rect x="1784.5" y="795.39" width="32.3" height="19.42" fill="#0f2241"/>
<rect x="1816.8" y="795.39" width="97.0" height="19.42" fill="#f8b4a0"/>
<rect x="167.1" y="775.96" width="323.5" height="19.42" fill="#d955aa"/>
<rect x="490.6" y="775.96" width="97.0" height="19.42" fill="#da57a9"/>
<rect x="587.6" y="775.96" width="64.7" height="19.42" fill="#dc5aa8"/>
<rect x="652.3" y="775.96" width="32.3" height="19.42" fill="#de5da6"/>
<rect x="684.7" y="775.96" width="32.3" height="19.42" fill="#df5fa5"/>
<rect x="717.0" y="775.96" width="32.3" height="19.42" fill="#e162a4"/>
<rect x="749.4" y="775.96" width="32.3" height="19.42" fill="#e265a3"/>
<rect x="781.7" y="775.96" width="32.3" height="19.42" fill="#e469a2"/>
<rect x="814.1" y="775.96" width="32.3" height="19.42" fill="#e66ea0"/>
<rect x="846.4" y="775.96" width="32.3" height="19.42" fill="#e8759e"/>
<rect x="878.8" y="775.96" width="32.3" height="19.42" fill="#eb809e"/>
<rect x="911.1" y="775.96" width="32.3" height="19.42" fill="#ef8d9d"/>
<rect x="943.5" y="775.96" width="32.3" height="19.42" fill="#f2989f"/>
<rect x="975.8" y="775.96" width="32.3" height="19.42" fill="#f5a4a0"/>
<rect x="1008.2" y="775.96" width="32.3" height="19.42" fill="#f8b2a0"/>
<rect x="1040.5" y="775.96" width="64.7" height="19.42" fill="#f8b4a0"/>
<rect x="1105.2" y="775.96" width="32.3" height="19.42" fill="#f8afa0"/>
<rect x="1137.5" y="775.96" width="32.3" height="19.42" fill="#f8b4a0"/>
<rect x="1169.9" y="775.96" width="32.3" height="19.42" fill="#f6a9a0"/>
<rect x="1202.2" y="775.96" width="32.3" height="19.42" fill="#f8b2a0"/>
<rect x="1234.6" y="775.96" width="32.3" height="19.42" fill="#f2989e"/>
<rect x="1266.9" y="775.96" width="32.3" height="19.42" fill="#f6a9a0"/>
<rect x="1299.3" y="775.96" width="32.3" height="19.42" fill="#e7719f"/>
<rect x="1331.6" y="775.96" width="32.3" height="19.42" fill="#f39d9f"/>
<rect x="1364.0" y="775.96" width="32.3" height="19.42" fill="#cc44b3"/>
<rect x="1396.3" y="775.96" width="32.3" height="19.42" fill="#f1949e"/>
<rect x="1428.7" y="775.96" width="32.3" height="19.42" fill="#a127c8"/>
<rect x="1461.0" y="775.96" width="32.3" height="19.42" fill="#f7aaa0"/>
<rect x="1493.4" y="775.96" width="32.3" height="19.42" fill="#8023c3"/>
<rect x="1525.7" y="775.96" width="32.3" height="19.42" fill="#f8b4a0"/>
<rect x="1558.1" y="775.96" width="32.3" height="19.42" fill="#6227b1"/>
<rect x="1590.4" y="775.96" width="32.3" height="19.42" fill="#f8b4a0"/>
<rect x="1622.7" y="775.96" width="32.3" height="19.42" fill="#4b2d9d"/>
<rect x="1655.1" y="775.96" width="32.3" height="19.42" fill="#f8b4a0"/>
<rect x="1687.4" y="775.96" width="32.3" height="19.42" fill="#452e93"/>
<rect x="1719.8" y="775.96" width="32.3" height="19.42" fill="#13254b"/>
<rect x="1752.1" y="775.96" width="32.3" height="19.42" fill="#542ba5"/>
<rect x="1784.5" y="775.96" width="32.3" height="19.42" fill="#0f2241"/>
<rect x="1816.8" y="775.96" width="97.0" height="19.42" fill="#f8b4a0"/>
<rect x="167.1" y="756.54" width="323.5" height="19.42" fill="#d048b0"/>
<rect x="490.6" y="756.54" width="97.0" height="19.42" fill="#d14aaf"/>
<rect x="587.6" y="756.54" width="32.3" height="19.42" fill="#d34cae"/>
<rect x="620.0" y="756.54" width="64.7" height="19.42" fill="#d44ead"/>
<rect x="684.7" y="756.54" width="32.3" height="19.42" fill="#d651ac"/>
<rect x="717.0" y="756.54" width="32.3" height="19.42" fill="#d854aa"/>
<rect x="749.4" y="756.54" width="32.3" height="19.42" fill="#da58a9"/>
<rect x="781.7" y="756.54" width="32.3" height="19.42" fill="#dd5ca7"/>
<rect x="814.1" y="756.54" width="32.3" height="19.42" fill="#e161a5"/>
<rect x="846.4" y="756.54" width="32.3" height="19.42" fill="#e367a2"/>
<rect x="878.8" y="756.54" width="32.3" height="19.42" fill="#e66fa0"/>
<rect x="911.1" y="756.54" width="32.3" height="19.42" fill="#e9799e"/>
<rect x="943.5" y="756.54" width="32.3" height="19.42" fill="#ee899d"/>
<rect x="975.8" y="756.54" width="32.3" height="19.42" fill="#f2979e"/>
<rect x="1008.2" y="756.54" width="32.3" height="19.42" fill="#f5a5a0"/>
<rect x="1040.5" y="756.54" width="64.7" height="19.42" fill="#f8b4a0"/>
<rect x="1105.2" y="756.54" width="32.3" height="19.42" fill="#f8afa0"/>
<rect x="1137.5" y="756.54" width="32.3" height="19.42" fill="#f8b4a0"/>
<rect x="1169.9" y="756.54" width="32.3" height="19.42" fill="#f6a9a0"/>
<rect x="1202.2" y="756.54" width="32.3" height="19.42" fill="#f8b2a0"/>
<rect x="1234.6" y="756.54" width="32.3" height="19.42" fill="#f2989e"/>
<rect x="1266.9" y="756.54" width="32.3" height="19.42" fill="#f6a9a0"/>
<rect x="1299.3" y="756.54" width="32.3" height="19.42" fill="#e7719f"/>
<rect x="1331.6" y="756.54" width="32.3" height="19.42" fill="#f39d9f"/>
<rect x="1364.0" y="756.54" width="32.3" height="19.42" fill="#cc44b3"/>
<rect x="1396.3" y="756.54" width="32.3" height="19.42" fill="#f1949e"/>
<rect x="1428.7" y="756.54" width="32.3" height="19.42" fill="#a127c8"/>
<rect x="1461.0" y="756.54" width="32.3" height="19.42" fill="#f7aaa0"/>
<rect x="1493.4" y="756.54" width="32.3" height="19.42" fill="#8023c3"/>
<rect x="1525.7" y="756.54" width="32.3" height="19.42" fill="#f8b4a0"/>
<rect x="1558.1" y="756.54" width="32.3" height="19.42" fill="#6227b1"/>
<rect x="1590.4" y="756.54" width="32.3" height="19.42" fill="#f8b4a0"/>
<rect x="1622.7" y="756.54" width="32.3" height="19.42" fill="#4b2d9d"/>
<rect x="1655.1" y="756.54" width="32.3" height="19.42" fill="#f8b4a0"/>
<rect x="1687.4" y="756.54" width="32.3" height="19.42" fill="#452e93"/>
<rect x="1719.8" y="756.54" width="32.3" height="19.42" fill="#13254b"/>
<rect x="1752.1" y="756.54" width="32.3" height="19.42" fill="#542ba5"/>
<rect x="1784.5" y="756.54" width="32.3" height="19.42" fill="#0f2241"/>
<rect x="1816.8" y="756.54" width="97.0" height="19.42" fill="#f8b4a0"/>
<rect x="167.1" y="737.12" width="323.5" height="19.42" fill="#c73db7"/>
<rect x="490.6" y="737.12" width="97.0" height="19.42" fill="#c83fb6"/>
<rect x="587.6" y="737.12" width="64.7" height="19.42" fill="#ca41b5"/>
<rect x="652.3" y="737.12" width="32.3" height="19.42" fill="#cc43b4"/>
<rect x="684.7" y="737.12" width="32.3" height="19.42" fill="#cd44b2"/>
<rect x="717.0" y="737.12" width="32.3" height="19.42" fill="#cf47b1"/>
<rect x="749.4" y="737.12" width="32.3" height="19.42" fill="#d149af"/>
<rect x="781.7" y="737.12" width="32.3" height="19.42" fill="#d44dae"/>
<rect x="814.1" y="737.12" width="32.3" height="19.42" fill="#d753ab"/>
<rect x="846.4" y="737.12" width="32.3" height="19.42" fill="#db59a8"/>
<rect x="878.8" y="737.12" width="32.3" height="19.42" fill="#e061a5"/>
<rect x="911.1" y="737.12" width="32.3" height="19.42" fill="#e469a2"/>
<rect x="943.5" y="737.12" width="32.3" height="19.42" fill="#e8749e"/>
<rect x="975.8" y="737.12" width="32.3" height="19.42" fill="#ed859d"/>
<rect x="1008.2" y="737.12" width="32.3" height="19.42" fill="#f2979e"/>
<rect x="1040.5" y="737.12" width="32.3" height="19.42" fill="#f6a7a0"/>
<rect x="1072.8" y="737.12" width="32.3" height="19.42" fill="#f8b4a0"/>
<rect x="1105.2" y="737.12" width="32.3" height="19.42" fill="#f8afa0"/>
<rect x="1137.5" y="737.12" width="32.3" height="19.42" fill="#f8b4a0"/>
<rect x="1169.9" y="737.12" width="32.3" height="19.42" fill="#f6a9a0"/>
<rect x="1202.2" y="737.12" width="32.3" height="19.42" fill="#f8b2a0"/>
<rect x="1234.6" y="737.12" width="32.3" height="19.42" fill="#f2989e"/>
<rect x="1266.9" y="737.12" width="32.3" height="19.42" fill="#f6a9a0"/>
<rect x="1299.3" y="737.12" width="32.3" height="19.42" fill="#e7719f"/>
<rect x="1331.6" y="737.12" width="32.3" height="19.42" fill="#f39d9f"/>
<rect x="1364.0" y="737.12" width="32.3" height="19.42" fill="#cc44b3"/>
<rect x="1396.3" y="737.12" width="32.3" height="19.42" fill="#f1949e"/>
<rect x="1428.7" y="737.12" width="32.3" height="19.42" fill="#a127c8"/>
<rect x="1461.0" y="737.12" width="32.3" height="19.42" fill="#f7aaa0"/>
<rect x="1493.4" y="737.12" width="32.3" height="19.42" fill="#8023c3"/>
<rect x="1525.7" y="737.12" width="32.3" height="19.42" fill="#f8b4a0"/>
<rect x="1558.1" y="737.12" width="32.3" height="19.42" fill="#6227b1"/>
<rect x="1590.4" y="737.12" width="32.3" height="19.42" fill="#f8b4a0"/>
<rect x="1622.7" y="737.12" width="32.3" height="19.42" fill="#4b2d9d"/>
<rect x="1655.1" y="737.12" width="32.3" height="19.42" fill="#f8b4a0"/>
<rect x="1687.4" y="737.12" width="32.3" height="19.42" fill="#452e93"/>
<rect x="1719.8" y="737.12" width="32.3" height="19.42" fill="#13254b"/>
<rect x="1752.1" y="737.12" width="32.3" height="19.42" fill="#542ba5"/>
<rect x="1784.5" y="737.12" width="32.3" height="19.42" fill="#0f2241"/>
<rect x="1816.8" y="737.12" width="97.0" height="19.42" fill="#f8b4a0"/>
<rect x="167.1" y="717.69" width="323.5" height="19.42" fill="#bd33be"/>
<rect x="490.6" y="717.69" width="97.0" height="19.42" fill="#bf34be"/>
<rect x="587.6" y="717.69" width="64.7" height="19.42" fill="#c136bd"/>
<rect x="652.3" y="717.69" width="32.3" height="19.42" fill="#c238bb"/>
<rect x="684.7" y="717.69" width="32.3" height="19.42" fill="#c439ba"/>
<rect x="717.0" y="717.69" width="32.3" height="19.42" fill="#c53bb9"/>
<rect x="749.4" y="717.69" width="32.3" height="19.42" fill="#c73db7"/>
<rect x="781.7" y="717.69" width="32.3" height="19.42" fill="#ca40b5"/>
<rect x="814.1" y="717.69" width="32.3" height="19.42" fill="#cd44b3"/>
<rect x="846.4" y="717.69" width="32.3" height="19.42" fill="#d149af"/>
<rect x="878.8" y="717.69" width="32.3" height="19.42" fill="#d650ac"/>
<rect x="911.1" y="717.69" width="32.3" height="19.42" fill="#dc59a8"/>
<rect x="943.5" y="717.69" width="32.3" height="19.42" fill="#e264a4"/>
<rect x="975.8" y="717.69" width="32.3" height="19.42" fill="#e6709f"/>
<rect x="1008.2" y="717.69" width="32.3" height="19.42" fill="#ec839d"/>
<rect x="1040.5" y="717.69" width="32.3" height="19.42" fill="#f2979e"/>
<rect x="1072.8" y="717.69" width="32.3" height="19.42" fill="#f7aaa0"/>
<rect x="1105.2" y="717.69" width="32.3" height="19.42" fill="#f8afa0"/>
<rect x="1137.5" y="717.69" width="32.3" height="19.42" fill="#f8b4a0"/>
<rect x="1169.9" y="717.69" width="32.3" height="19.42" fill="#f6a9a0"/>
<rect x="1202.2" y="717.69" width="32.3" height="19.42" fill="#f8b2a0"/>
<rect x="1234.6" y="717.69" width="32.3" height="19.42" fill="#f2989e"/>
<rect x="1266.9" y="717.69" width="32.3" height="19.42" fill="#f6a9a0"/>
<rect x="1299.3" y="717.69" width="32.3" height="19.42" fill="#e7719f"/>
<rect x="1331.6" y="717.69" width="32.3" height="19.42" fill="#f39d9f"/>
<rect x="1364.0" y="717.69" width="32.3" height="19.42" fill="#cc44b3"/>
<rect x="1396.3" y="717.69" width="32.3" height="19.42" fill="#f1949e"/>
<rect x="1428.7" y="717.69" width="32.3" height="19.42" fill="#a127c8"/>
<rect x="1461.0" y="717.69" width="32.3" height="19.42" fill="#f7aaa0"/>
<rect x="1493.4" y="717.69" width="32.3" height="19.42" fill="#8023c3"/>
<rect x="1525.7" y="717.69" width="32.3" height="19.42" fill="#f8b4a0"/>
<rect x="1558.1" y="717.69" width="32.3" height="19.42" fill="#6227b1"/>
<rect x="1590.4" y="717.69" width="32.3" height="19.42" fill="#f8b4a0"/>
<rect x="1622.7" y="717.69" width="32.3" height="19.42" fill="#4b2d9d"/>
<rect x="1655.1" y="717.69" width="32.3" height="19.42" fill="#f8b4a0"/>
<rect x="1687.4" y="717.69" width="32.3" height="19.42" fill="#452e93"/>
<rect x="1719.8" y="717.69" width="32.3" height="19.42" fill="#13254b"/>
<rect x="1752.1" y="717.69" width="32.3" height="19.42" fill="#542ba5"/>
<rect x="1784.5" y="717.69" width="32.3" height="19.42" fill="#0f2241"/>
<rect x="1816.8" y="717.69" width="97.0" height="19.42" fill="#f8b4a0"/>
<rect x="167.1" y="698.27" width="355.8" height="19.42" fill="#b02cc4"/>
<rect x="522.9" y="698.27" width="97.0" height="19.42" fill="#b22dc4"/>
<rect x="620.0" y="698.27" width="64.7" height="19.42" fill="#b42fc2"/>
<rect x="684.7" y="698.27" width="32.3" height="19.42" fill="#b730c1"/>
<rect x="717.0" y="698.27" width="32.3" height="19.42" fill="#b931c0"/>
<rect x="749.4" y="698.27" width="32.3" height="19.42" fill="#bc33bf"/>
<rect x="781.7" y="698.27" width="32.3" height="19.42" fill="#bf35bd"/>
<rect x="814.1" y="698.27" width="32.3" height="19.42" fill="#c238bb"/>
<rect x="846.4" y="698.27" width="32.3" height="19.42" fill="#c63cb8"/>
<rect x="878.8" y="698.27" width="32.3" height="19.42" fill="#cb41b4"/>
<rect x="911.1" y="698.27" width="32.3" height="19.42" fill="#d048b0"/>
<rect x="943.5" y="698.27" width="32.3" height="19.42" fill="#d752ab"/>
<rect x="975.8" y="698.27" width="32.3" height="19.42" fill="#df5fa5"/>
<rect x="1008.2" y="698.27" width="32.3" height="19.42" fill="#e56da1"/>
<rect x="1040.5" y="698.27" width="32.3" height="19.42" fill="#ec829e"/>
<rect x="1072.8" y="698.27" width="32.3" height="19.42" fill="#f2999f"/>
<rect x="1105.2" y="698.27" width="32.3" height="19.42" fill="#f8afa0"/>
<rect x="1137.5" y="698.27" width="32.3" height="19.42" fill="#f8b4a0"/>
<rect x="1169.9" y="698.27" width="32.3" height="19.42" fill="#f6a9a0"/>
<rect x="1202.2" y="698.27" width="32.3" height="19.42" fill="#f8b2a0"/>
<rect x="1234.6" y="698.27" width="32.3" height="19.42" fill="#f2989e"/>
<rect x="1266.9" y="698.27" width="32.3" height="19.42" fill="#f6a9a0"/>
<rect x="1299.3" y="698.27" width="32.3" height="19.42" fill="#e7719f"/>
<rect x="1331.6" y="698.27" width="32.3" height="19.42" fill="#f39d9f"/>
<rect x="1364.0" y="698.27" width="32.3" height="19.42" fill="#cc44b3"/>
<rect x="1396.3" y="698.27" width="32.3" height="19.42" fill="#f1949e"/>
<rect x="1428.7" y="698.27" width="32.3" height="19.42" fill="#a127c8"/>
<rect x="1461.0" y="698.27" width="32.3" height="19.42" fill="#f7aaa0"/>
<rect x="1493.4" y="698.27" width="32.3" height="19.42" fill="#8023c3"/>
<rect x="1525.7" y="698.27" width="32.3" height="19.42" fill="#f8b4a0"/>
<rect x="1558.1" y="698.27" width="32.3" height="19.42" fill="#6227b1"/>
<rect x="1590.4" y="698.27" width="32.3" height="19.42" fill="#f8b4a0"/>
<rect x="1622.7" y="698.27" width="32.3" height="19.42" fill="#4b2d9d"/>
<rect x="1655.1" y="698.27" width="32.3" height="19.42" fill="#f8b4a0"/>
<rect x="1687.4" y="698.27" width="32.3" height="19.42" fill="#452e93"/>
<rect x="1719.8" y="698.27" width="32.3" height="19.42" fill="#13254b"/>
<rect x="1752.1" y="698.27" width="32.3" height="19.42" fill="#542ba5"/>
<rect x="1784.5" y="698.27" width="32.3" height="19.42" fill="#0f2241"/>
<rect x="1816.8" y="698.27" width="97.0" height="19.42" fill="#f8b4a0"/>
<rect x="167.1" y="678.85" width="323.5" height="19.42" fill="#a127c8"/>
<rect x="490.6" y="678.85" width="97.0" height="19.42" fill="#a327c8"/>
<rect x="587.6" y="678.85" width="64.7" height="19.42" fill="#a527c8"/>
<rect x="652.3" y="678.85" width="32.3" height="19.42" fill="#a728c8"/>
<rect x="684.7" y="678.85" width="32.3" height="19.42" fill="#a929c8"/>
<rect x="717.0" y="678.85" width="32.3" height="19.42" fill="#ab2ac7"/>
<rect x="749.4" y="678.85" width="32.3" height="19.42" fill="#ad2bc6"/>
<rect x="781.7" y="678.85" width="32.3" height="19.42" fill="#b02dc4"/>
<rect x="814.1" y="678.85" width="32.3" height="19.42" fill="#b42fc2"/>
<rect x="846.4" y="678.85" width="32.3" height="19.42" fill="#b931c0"/>
<rect x="878.8" y="678.85" width="32.3" height="19.42" fill="#bf34be"/>
<rect x="911.1" y="678.85" width="32.3" height="19.42" fill="#c43aba"/>
<rect x="943.5" y="678.85" width="32.3" height="19.42" fill="#cb42b4"/>
<rect x="975.8" y="678.85" width="32.3" height="19.42" fill="#d24cae"/>
<rect x="1008.2" y="678.85" width="32.3" height="19.42" fill="#dc5aa8"/>
<rect x="1040.5" y="678.85" width="32.3" height="19.42" fill="#e46aa1"/>
<rect x="1072.8" y="678.85" width="32.3" height="19.42" fill="#ec829d"/>
<rect x="1105.2" y="678.85" width="32.3" height="19.42" fill="#f39c9f"/>
<rect x="1137.5" y="678.85" width="32.3" height="19.42" fill="#f8b4a0"/>
<rect x="1169.9" y="678.85" width="32.3" height="19.42" fill="#f6a9a0"/>
<rect x="1202.2" y="678.85" width="32.3" height="19.42" fill="#f8b2a0"/>
<rect x="1234.6" y="678.85" width="32.3" height="19.42" fill="#f2989e"/>
<rect x="1266.9" y="678.85" width="32.3" height="19.42" fill="#f6a9a0"/>
<rect x="1299.3" y="678.85" width="32.3" height="19.42" fill="#e7719f"/>
<rect x="1331.6" y="678.85" width="32.3" height="19.42" fill="#f39d9f"/>
<rect x="1364.0" y="678.85" width="32.3" height="19.42" fill="#cc44b3"/>
<rect x="1396.3" y="678.85" width="32.3" height="19.42" fill="#f1949e"/>
<rect x="1428.7" y="678.85" width="32.3" height="19.42" fill="#a127c8"/>
<rect x="1461.0" y="678.85" width="32.3" height="19.42" fill="#f7aaa0"/>
<rect x="1493.4" y="678.85" width="32.3" height="19.42" fill="#8023c3"/>
<rect x="1525.7" y="678.85" width="32.3" height="19.42" fill="#f8b4a0"/>
<rect x="1558.1" y="678.85" width="32.3" height="19.42" fill="#6227b1"/>
<rect x="1590.4" y="678.85" width="32.3" height="19.42" fill="#f8b4a0"/>
<rect x="1622.7" y="678.85" width="32.3" height="19.42" fill="#4b2d9d"/>
<rect x="1655.1" y="678.85" width="32.3" height="19.42" fill="#f8b4a0"/>
<rect x="1687.4" y="678.85" width="32.3" height="19.42" fill="#452e93"/>
<rect x="1719.8" y="678.85" width="32.3" height="19.42" fill="#13254b"/>
<rect x="1752.1" y="678.85" width="32.3" height="19.42" fill="#542ba5"/>
<rect x="1784.5" y="678.85" width="32.3" height="19.42" fill="#0f2241"/>
<rect x="1816.8" y="678.85" width="97.0" height="19.42" fill="#f8b4a0"/>
<rect x="167.1" y="659.42" width="355.8" height="19.42" fill="#9123c8"/>
<rect x="522.9" y="659.42" width="97.0" height="19.42" fill="#9324c8"/>
<rect x="620.0" y="659.42" width="64.7" height="19.42" fill="#9524c8"/>
<rect x="684.7" y="659.42" width="32.3" height="19.42" fill="#9825c8"/>
<rect x="717.0" y="659.42" width="32.3" height="19.42" fill="#9a25c8"/>
<rect x="749.4" y="659.42" width="32.3" height="19.42" fill="#9d26c8"/>
<rect x="781.7" y="659.42" width="32.3" height="19.42" fill="#a026c8"/>
<rect x="814.1" y="659.42" width="32.3" height="19.42" fill="#a427c8"/>
<rect x="846.4" y="659.42" width="32.3" height="19.42" fill="#a928c8"/>
<rect x="878.8" y="659.42" width="32.3" height="19.42" fill="#ae2bc5"/>
<rect x="911.1" y="659.42" width="32.3" height="19.42" fill="#b52fc2"/>
<rect x="943.5" y="659.42" width="32.3" height="19.42" fill="#bd33be"/>
<rect x="975.8" y="659.42" width="32.3" height="19.42" fill="#c53bb9"/>
<rect x="1008.2" y="659.42" width="32.3" height="19.42" fill="#ce45b2"/>
<rect x="1040.5" y="659.42" width="32.3" height="19.42" fill="#d955aa"/>
<rect x="1072.8" y="659.42" width="32.3" height="19.42" fill="#e369a2"/>
<rect x="1105.2" y="659.42" width="32.3" height="19.42" fill="#ed849d"/>
<rect x="1137.5" y="659.42" width="32.3" height="19.42" fill="#f4a1a0"/>
<rect x="1169.9" y="659.42" width="32.3" height="19.42" fill="#f6a9a0"/>
<rect x="1202.2" y="659.42" width="32.3" height="19.42" fill="#f8b2a0"/>
<rect x="1234.6" y="659.42" width="32.3" height="19.42" fill="#f2989e"/>
<rect x="1266.9" y="659.42" width="32.3" height="19.42" fill="#f6a9a0"/>
<rect x="1299.3" y="659.42" width="32.3" height="19.42" fill="#e7719f"/>
<rect x="1331.6" y="659.42" width="32.3" height="19.42" fill="#f39d9f"/>
<rect x="1364.0" y="659.42" width="32.3" height="19.42" fill="#cc44b3"/>
<rect x="1396.3" y="659.42" width="32.3" height="19.42" fill="#f1949e"/>
<rect x="1428.7" y="659.42" width="32.3" height="19.42" fill="#a127c8"/>
<rect x="1461.0" y="659.42" width="32.3" height="19.42" fill="#f7aaa0"/>
<rect x="1493.4" y="659.42" width="32.3" height="19.42" fill="#8023c3"/>
<rect x="1525.7" y="659.42" width="32.3" height="19.42" fill="#f8b4a0"/>
<rect x="1558.1" y="659.42" width="32.3" height="19.42" fill="#6227b1"/>
<rect x="1590.4" y="659.42" width="32.3" height="19.42" fill="#f8b4a0"/>
<rect x="1622.7" y="659.42" width="32.3" height="19.42" fill="#4b2d9d"/>
<rect x="1655.1" y="659.42" width="32.3" height="19.42" fill="#f8b4a0"/>
<rect x="1687.4" y="659.42" width="32.3" height="19.42" fill="#452e93"/>
<rect x="1719.8" y="659.42" width="32.3" height="19.42" fill="#13254b"/>
<rect x="1752.1" y="659.42" width="32.3" height="19.42" fill="#542ba5"/>
<rect x="1784.5" y="659.42" width="32.3" height="19.42" fill="#0f2241"/>
<rect x="1816.8" y="659.42" width="97.0" height="19.42" fill="#f8b4a0"/>
<rect x="167.1" y="640.00" width="355.8" height="19.42" fill="#8023c3"/>
<rect x="522.9" y="640.00" width="97.0" height="19.42" fill="#8223c4"/>
<rect x="620.0" y="640.00" width="64.7" height="19.42" fill="#8423c5"/>
<rect x="684.7" y="640.00" width="32.3" height="19.42" fill="#8622c6"/>
<rect x="717.0" y="640.00" width="32.3" height="19.42" fill="#8822c7"/>
<rect x="749.4" y="640.00" width="32.3" height="19.42" fill="#8b22c8"/>
<rect x="781.7" y="640.00" width="32.3" height="19.42" fill="#8d23c8"/>
<rect x="814.1" y="640.00" width="32.3" height="19.42" fill="#9123c8"/>
<rect x="846.4" y="640.00" width="32.3" height="19.42" fill="#9524c8"/>
<rect x="878.8" y="640.00" width="32.3" height="19.42" fill="#9b25c8"/>
<rect x="911.1" y="640.00" width="32.3" height="19.42" fill="#a227c8"/>
<rect x="943.5" y="640.00" width="32.3" height="19.42" fill="#aa29c7"/>
<rect x="975.8" y="640.00" width="32.3" height="19.42" fill="#b32ec3"/>
<rect x="1008.2" y="640.00" width="32.3" height="19.42" fill="#bf34be"/>
<rect x="1040.5" y="640.00" width="32.3" height="19.42" fill="#c940b6"/>
<rect x="1072.8" y="640.00" width="32.3" height="19.42" fill="#d651ac"/>
<rect x="1105.2" y="640.00" width="32.3" height="19.42" fill="#e368a2"/>
<rect x="1137.5" y="640.00" width="32.3" height="19.42" fill="#ee899d"/>
<rect x="1169.9" y="640.00" width="32.3" height="19.42" fill="#f6a9a0"/>
<rect x="1202.2" y="640.00" width="32.3" height="19.42" fill="#f8b2a0"/>
<rect x="1234.6" y="640.00" width="32.3" height="19.42" fill="#f2989e"/>
<rect x="1266.9" y="640.00" width="32.3" height="19.42" fill="#f6a9a0"/>
<rect x="1299.3" y="640.00" width="32.3" height="19.42" fill="#e7719f"/>
<rect x="1331.6" y="640.00" width="32.3" height="19.42" fill="#f39d9f"/>
<rect x="1364.0" y="640.00" width="32.3" height="19.42" fill="#cc44b3"/>
<rect x="1396.3" y="640.00" width="32.3" height="19.42" fill="#f1949e"/>
<rect x="1428.7" y="640.00" width="32.3" height="19.42" fill="#a127c8"/>
<rect x="1461.0" y="640.00" width="32.3" height="19.42" fill="#f7aaa0"/>
<rect x="1493.4" y="640.00" width="32.3" height="19.42" fill="#8023c3"/>
<rect x="1525.7" y="640.00" width="32.3" height="19.42" fill="#f8b4a0"/>
<rect x="1558.1" y="640.00" width="32.3" height="19.42" fill="#6227b1"/>
<rect x="1590.4" y="640.00" width="32.3" height="19.42" fill="#f8b4a0"/>
<rect x="1622.7" y="640.00" width="32.3" height="19.42" fill="#4b2d9d"/>
<rect x="1655.1" y="640.00" width="32.3" height="19.42" fill="#f8b4a0"/>
<rect x="1687.4" y="640.00" width="32.3" height="19.42" fill="#452e93"/>
<rect x="1719.8" y="640.00" width="32.3" height="19.42" fill="#13254b"/>
<rect x="1752.1" y="640.00" width="32.3" height="19.42" fill="#542ba5"/>
<rect x="1784.5" y="640.00" width="32.3" height="19.42" fill="#0f2241"/>
<rect x="1816.8" y="640.00" width="97.0" height="19.42" fill="#f8b4a0"/>
<rect x="167.1" y="620.57" width="388.2" height="19.42" fill="#6e25ba"/>
<rect x="555.3" y="620.57" width="97.0" height="19.42" fill="#7024bb"/>
<rect x="652.3" y="620.57" width="64.7" height="19.42" fill="#7224bc"/>
<rect x="717.0" y="620.57" width="32.3" height="19.42" fill="#7524be"/>
<rect x="749.4" y="620.57" width="32.3" height="19.42" fill="#7724bf"/>
<rect x="781.7" y="620.57" width="32.3" height="19.42" fill="#7a24c0"/>
<rect x="814.1" y="620.57" width="32.3" height="19.42" fill="#7d23c1"/>
<rect x="846.4" y="620.57" width="32.3" height="19.42" fill="#8123c3"/>
<rect x="878.8" y="620.57" width="32.3" height="19.42" fill="#8622c6"/>
<rect x="911.1" y="620.57" width="32.3" height="19.42" fill="#8c22c8"/>
<rect x="943.5" y="620.57" width="32.3" height="19.42" fill="#9424c8"/>
<rect x="975.8" y="620.57" width="32.3" height="19.42" fill="#9d26c8"/>
<rect x="1008.2" y="620.57" width="32.3" height="19.42" fill="#a929c7"/>
<rect x="1040.5" y="620.57" width="32.3" height="19.42" fill="#b630c2"/>
<rect x="1072.8" y="620.57" width="32.3" height="19.42" fill="#c53ab9"/>
<rect x="1105.2" y="620.57" width="32.3" height="19.42" fill="#d34dae"/>
<rect x="1137.5" y="620.57" width="32.3" height="19.42" fill="#e368a2"/>
<rect x="1169.9" y="620.57" width="32.3" height="19.42" fill="#f0909d"/>
<rect x="1202.2" y="620.57" width="32.3" height="19.42" fill="#f8b2a0"/>
<rect x="1234.6" y="620.57" width="32.3" height="19.42" fill="#f2989e"/>
<rect x="1266.9" y="620.57" width="32.3" height="19.42" fill="#f6a9a0"/>
<rect x="1299.3" y="620.57" width="32.3" height="19.42" fill="#e7719f"/>
<rect x="1331.6" y="620.57" width="32.3" height="19.42" fill="#f39d9f"/>
<rect x="1364.0" y="620.57" width="32.3" height="19.42" fill="#cc44b3"/>
<rect x="1396.3" y="620.57" width="32.3" height="19.42" fill="#f1949e"/>
<rect x="1428.7" y="620.57" width="32.3" height="19.42" fill="#a127c8"/>
<rect x="1461.0" y="620.57" width="32.3" height="19.42" fill="#f7aaa0"/>
<rect x="1493.4" y="620.57" width="32.3" height="19.42" fill="#8023c3"/>
<rect x="1525.7" y="620.57" width="32.3" height="19.42" fill="#f8b4a0"/>
<rect x="1558.1" y="620.57" width="32.3" height="19.42" fill="#6227b1"/>
<rect x="1590.4" y="620.57" width="32.3" height="19.42" fill="#f8b4a0"/>
<rect x="1622.7" y="620.57" width="32.3" height="19.42" fill="#4b2d9d"/>
<rect x="1655.1" y="620.57" width="32.3" height="19.42" fill="#f8b4a0"/>
<rect x="1687.4" y="620.57" width="32.3" height="19.42" fill="#452e93"/>
<rect x="1719.8" y="620.57" width="32.3" height="19.42" fill="#13254b"/>
<rect x="1752.1" y="620.57" width="32.3" height="19.42" fill="#542ba5"/>
<rect x="1784.5" y="620.57" width="32.3" height="19.42" fill="#0f2241"/>
<rect x="1816.8" y="620.57" width="97.0" height="19.42" fill="#f8b4a0"/>
<rect x="167.1" y="601.15" width="388.2" height="19.42" fill="#5d28ac"/>
<rect x="555.3" y="601.15" width="97.0" height="19.42" fill="#5e28ae"/>
<rect x="652.3" y="601.15" width="64.7" height="19.42" fill="#6028af"/>
<rect x="717.0" y="601.15" width="32.3" height="19.42" fill="#6227b1"/>
<rect x="749.4" y="601.15" width="32.3" height="19.42" fill="#6427b2"/>
<rect x="781.7" y="601.15" width="32.3" height="19.42" fill="#6626b4"/>
<rect x="814.1" y="601.15" width="32.3" height="19.42" fill="#6825b6"/>
<rect x="846.4" y="601.15" width="32.3" height="19.42" fill="#6b25b9"/>
<rect x="878.8" y="601.15" width="32.3" height="19.42" fill="#7024bb"/>
<rect x="911.1" y="601.15" width="32.3" height="19.42" fill="#7524bd"/>
<rect x="943.5" y="601.15" width="32.3" height="19.42" fill="#7c23c1"/>
<rect x="975.8" y="601.15" width="32.3" height="19.42" fill="#8423c5"/>
<rect x="1008.2" y="601.15" width="32.3" height="19.42" fill="#8f23c8"/>
<rect x="1040.5" y="601.15" width="32.3" height="19.42" fill="#9c26c8"/>
<rect x="1072.8" y="601.15" width="32.3" height="19.42" fill="#ad2bc6"/>
<rect x="1105.2" y="601.15" width="32.3" height="19.42" fill="#c035bd"/>
<rect x="1137.5" y="601.15" width="32.3" height="19.42" fill="#d14aaf"/>
<rect x="1169.9" y="601.15" width="32.3" height="19.42" fill="#e46aa2"/>
<rect x="1202.2" y="601.15" width="32.3" height="19.42" fill="#f1939e"/>
<rect x="1234.6" y="601.15" width="32.3" height="19.42" fill="#f2989e"/>
<rect x="1266.9" y="601.15" width="32.3" height="19.42" fill="#f6a9a0"/>
<rect x="1299.3" y="601.15" width="32.3" height="19.42" fill="#e7719f"/>
<rect x="1331.6" y="601.15" width="32.3" height="19.42" fill="#f39d9f"/>
<rect x="1364.0" y="601.15" width="32.3" height="19.42" fill="#cc44b3"/>
<rect x="1396.3" y="601.15" width="32.3" height="19.42" fill="#f1949e"/>
<rect x="1428.7" y="601.15" width="32.3" height="19.42" fill="#a127c8"/>
<rect x="1461.0" y="601.15" width="32.3" height="19.42" fill="#f7aaa0"/>
<rect x="1493.4" y="601.15" width="32.3" height="19.42" fill="#8023c3"/>
<rect x="1525.7" y="601.15" width="32.3" height="19.42" fill="#f8b4a0"/>
<rect x="1558.1" y="601.15" width="32.3" height="19.42" fill="#6227b1"/>
<rect x="1590.4" y="601.15" width="32.3" height="19.42" fill="#f8b4a0"/>
<rect x="1622.7" y="601.15" width="32.3" height="19.42" fill="#4b2d9d"/>
<rect x="1655.1" y="601.15" width="32.3" height="19.42" fill="#f8b4a0"/>
<rect x="1687.4" y="601.15" width="32.3" height="19.42" fill="#452e93"/>
<rect x="1719.8" y="601.15" width="32.3" height="19.42" fill="#13254b"/>
<rect x="1752.1" y="601.15" width="32.3" height="19.42" fill="#542ba5"/>
<rect x="1784.5" y="601.15" width="32.3" height="19.42" fill="#0f2241"/>
<rect x="1816.8" y="601.15" width="97.0" height="19.42" fill="#f8b4a0"/>
<rect x="167.1" y="581.73" width="420.5" height="19.42" fill="#4b2d9d"/>
<rect x="587.6" y="581.73" width="97.0" height="19.42" fill="#4d2c9e"/>
<rect x="684.7" y="581.73" width="64.7" height="19.42" fill="#4e2ca0"/>
<rect x="749.4" y="581.73" width="32.3" height="19.42" fill="#502ba2"/>
<rect x="781.7" y="581.73" width="32.3" height="19.42" fill="#522ba3"/>
<rect x="814.1" y="581.73" width="32.3" height="19.42" fill="#542ba5"/>
<rect x="846.4" y="581.73" width="32.3" height="19.42" fill="#562aa7"/>
<rect x="878.8" y="581.73" width="32.3" height="19.42" fill="#5929aa"/>
<rect x="911.1" y="581.73" width="32.3" height="19.42" fill="#5e28ad"/>
<rect x="943.5" y="581.73" width="32.3" height="19.42" fill="#6327b2"/>
<rect x="975.8" y="581.73" width="32.3" height="19.42" fill="#6925b8"/>
<rect x="1008.2" y="581.73" width="32.3" height="19.42" fill="#7324bc"/>
<rect x="1040.5" y="581.73" width="32.3" height="19.42" fill="#7f23c2"/>
<rect x="1072.8" y="581.73" width="32.3" height="19.42" fill="#8e23c8"/>
<rect x="1105.2" y="581.73" width="32.3" height="19.42" fill="#a227c8"/>
<rect x="1137.5" y="581.73" width="32.3" height="19.42" fill="#b931c0"/>
<rect x="1169.9" y="581.73" width="32.3" height="19.42" fill="#cf47b1"/>
<rect x="1202.2" y="581.73" width="32.3" height="19.42" fill="#e368a2"/>
<rect x="1234.6" y="581.73" width="32.3" height="19.42" fill="#f2989e"/>
<rect x="1266.9" y="581.73" width="32.3" height="19.42" fill="#f6a9a0"/>
<rect x="1299.3" y="581.73" width="32.3" height="19.42" fill="#e7719f"/>
<rect x="1331.6" y="581.73" width="32.3" height="19.42" fill="#f39d9f"/>
<rect x="1364.0" y="581.73" width="32.3" height="19.42" fill="#cc44b3"/>
<rect x="1396.3" y="581.73" width="32.3" height="19.42" fill="#f1949e"/>
<rect x="1428.7" y="581.73" width="32.3" height="19.42" fill="#a127c8"/>
<rect x="1461.0" y="581.73" width="32.3" height="19.42" fill="#f7aaa0"/>
<rect x="1493.4" y="581.73" width="32.3" height="19.42" fill="#8023c3"/>
<rect x="1525.7" y="581.73" width="32.3" height="19.42" fill="#f8b4a0"/>
<rect x="1558.1" y="581.73" width="32.3" height="19.42" fill="#6227b1"/>
<rect x="1590.4" y="581.73" width="32.3" height="19.42" fill="#f8b4a0"/>
<rect x="1622.7" y="581.73" width="32.3" height="19.42" fill="#4b2d9d"/>
<rect x="1655.1" y="581.73" width="32.3" height="19.42" fill="#f8b4a0"/>
<rect x="1687.4" y="581.73" width="32.3" height="19.42" fill="#452e93"/>
<rect x="1719.8" y="581.73" width="32.3" height="19.42" fill="#13254b"/>
<rect x="1752.1" y="581.73" width="32.3" height="19.42" fill="#542ba5"/>
<rect x="1784.5" y="581.73" width="32.3" height="19.42" fill="#0f2241"/>
<rect x="1816.8" y="581.73" width="97.0" height="19.42" fill="#f8b4a0"/>
<rect x="167.1" y="562.30" width="485.2" height="19.42" fill="#412f8d"/>
<rect x="652.3" y="562.30" width="129.4" height="19.42" fill="#422e8f"/>
<rect x="781.7" y="562.30" width="64.7" height="19.42" fill="#432e91"/>
<rect x="846.4" y="562.30" width="32.3" height="19.42" fill="#452e94"/>
<rect x="878.8" y="562.30" width="32.3" height="19.42" fill="#462e96"/>
<rect x="911.1" y="562.30" width="32.3" height="19.42" fill="#482d99"/>
<rect x="943.5" y="562.30" width="32.3" height="19.42" fill="#4a2d9c"/>
<rect x="975.8" y="562.30" width="32.3" height="19.42" fill="#4f2ca1"/>
<rect x="1008.2" y="562.30" width="32.3" height="19.42" fill="#562aa7"/>
<rect x="1040.5" y="562.30" width="32.3" height="19.42" fill="#5f28af"/>
<rect x="1072.8" y="562.30" width="32.3" height="19.42" fill="#6c25b9"/>
<rect x="1105.2" y="562.30" width="32.3" height="19.42" fill="#7d23c2"/>
<rect x="1137.5" y="562.30" width="32.3" height="19.42" fill="#9524c8"/>
<rect x="1169.9" y="562.30" width="32.3" height="19.42" fill="#b22dc3"/>
<rect x="1202.2" y="562.30" width="32.3" height="19.42" fill="#cb42b4"/>
<rect x="1234.6" y="562.30" width="32.3" height="19.42" fill="#e266a3"/>
<rect x="1266.9" y="562.30" width="32.3" height="19.42" fill="#f6a9a0"/>
<rect x="1299.3" y="562.30" width="32.3" height="19.42" fill="#e7719f"/>
<rect x="1331.6" y="562.30" width="32.3" height="19.42" fill="#f39d9f"/>
<rect x="1364.0" y="562.30" width="32.3" height="19.42" fill="#cc44b3"/>
<rect x="1396.3" y="562.30" width="32.3" height="19.42" fill="#f1949e"/>
<rect x="1428.7" y="562.30" width="32.3" height="19.42" fill="#a127c8"/>
<rect x="1461.0" y="562.30" width="32.3" height="19.42" fill="#f7aaa0"/>
<rect x="1493.4" y="562.30" width="32.3" height="19.42" fill="#8023c3"/>
<rect x="1525.7" y="562.30" width="32.3" height="19.42" fill="#f8b4a0"/>
<rect x="1558.1" y="562.30" width="32.3" height="19.42" fill="#6227b1"/>
<rect x="1590.4" y="562.30" width="32.3" height="19.42" fill="#f8b4a0"/>
<rect x="1622.7" y="562.30" width="32.3" height="19.42" fill="#4b2d9d"/>
<rect x="1655.1" y="562.30" width="32.3" height="19.42" fill="#f8b4a0"/>
<rect x="1687.4" y="562.30" width="32.3" height="19.42" fill="#452e93"/>
<rect x="1719.8" y="562.30" width="32.3" height="19.42" fill="#13254b"/>
<rect x="1752.1" y="562.30" width="32.3" height="19.42" fill="#542ba5"/>
<rect x="1784.5" y="562.30" width="32.3" height="19.42" fill="#0f2241"/>
<rect x="1816.8" y="562.30" width="97.0" height="19.42" fill="#f8b4a0"/>
<rect x="167.1" y="542.88" width="582.2" height="19.42" fill="#37307d"/>
<rect x="749.4" y="542.88" width="97.0" height="19.42" fill="#38307f"/>
<rect x="846.4" y="542.88" width="64.7" height="19.42" fill="#393081"/>
<rect x="911.1" y="542.88" width="32.3" height="19.42" fill="#3b3083"/>
<rect x="943.5" y="542.88" width="32.3" height="19.42" fill="#3c2f86"/>
<rect x="975.8" y="542.88" width="32.3" height="19.42" fill="#3e2f89"/>
<rect x="1008.2" y="542.88" width="32.3" height="19.42" fill="#412f8d"/>
<rect x="1040.5" y="542.88" width="32.3" height="19.42" fill="#452e93"/>
<rect x="1072.8" y="542.88" width="32.3" height="19.42" fill="#4a2d9c"/>
<rect x="1105.2" y="542.88" width="32.3" height="19.42" fill="#572aa7"/>
<rect x="1137.5" y="542.88" width="32.3" height="19.42" fill="#6a25b8"/>
<rect x="1169.9" y="542.88" width="32.3" height="19.42" fill="#8622c6"/>
<rect x="1202.2" y="542.88" width="32.3" height="19.42" fill="#a728c8"/>
<rect x="1234.6" y="542.88" width="32.3" height="19.42" fill="#c53bb9"/>
<rect x="1266.9" y="542.88" width="32.3" height="19.42" fill="#e367a3"/>
<rect x="1299.3" y="542.88" width="32.3" height="19.42" fill="#e7719f"/>
<rect x="1331.6" y="542.88" width="32.3" height="19.42" fill="#f39d9f"/>
<rect x="1364.0" y="542.88" width="32.3" height="19.42" fill="#cc44b3"/>
<rect x="1396.3" y="542.88" width="32.3" height="19.42" fill="#f1949e"/>
<rect x="1428.7" y="542.88" width="32.3" height="19.42" fill="#a127c8"/>
<rect x="1461.0" y="542.88" width="32.3" height="19.42" fill="#f7aaa0"/>
<rect x="1493.4" y="542.88" width="32.3" height="19.42" fill="#8023c3"/>
<rect x="1525.7" y="542.88" width="32.3" height="19.42" fill="#f8b4a0"/>
<rect x="1558.1" y="542.88" width="32.3" height="19.42" fill="#6227b1"/>
<rect x="1590.4" y="542.88" width="32.3" height="19.42" fill="#f8b4a0"/>
<rect x="1622.7" y="542.88" width="32.3" height="19.42" fill="#4b2d9d"/>
<rect x="1655.1" y="542.88" width="32.3" height="19.42" fill="#f8b4a0"/>
<rect x="1687.4" y="542.88" width="32.3" height="19.42" fill="#452e93"/>
<rect x="1719.8" y="542.88" width="32.3" height="19.42" fill="#13254b"/>
<rect x="1752.1" y="542.88" width="32.3" height="19.42" fill="#542ba5"/>
<rect x="1784.5" y="542.88" width="32.3" height="19.42" fill="#0f2241"/>
<rect x="1816.8" y="542.88" width="97.0" height="19.42" fill="#f8b4a0"/>
<rect x="167.1" y="523.46" width="582.2" height="19.42" fill="#2d2c6d"/>
<rect x="749.4" y="523.46" width="161.7" height="19.42" fill="#2e2d6f"/>
<rect x="911.1" y="523.46" width="32.3" height="19.42" fill="#302d71"/>
<rect x="943.5" y="523.46" width="64.7" height="19.42" fill="#302d73"/>
<rect x="1008.2" y="523.46" width="32.3" height="19.42" fill="#322e76"/>
<rect x="1040.5" y="523.46" width="32.3" height="19.42" fill="#342f79"/>
<rect x="1072.8" y="523.46" width="32.3" height="19.42" fill="#362f7d"/>
<rect x="1105.2" y="523.46" width="32.3" height="19.42" fill="#3c2f85"/>
<rect x="1137.5" y="523.46" width="32.3" height="19.42" fill="#442e92"/>
<rect x="1169.9" y="523.46" width="32.3" height="19.42" fill="#552aa6"/>
<rect x="1202.2" y="523.46" width="32.3" height="19.42" fill="#7224bc"/>
<rect x="1234.6" y="523.46" width="32.3" height="19.42" fill="#9725c8"/>
<rect x="1266.9" y="523.46" width="32.3" height="19.42" fill="#c136bd"/>
<rect x="1299.3" y="523.46" width="32.3" height="19.42" fill="#e7719f"/>
<rect x="1331.6" y="523.46" width="32.3" height="19.42" fill="#f39d9f"/>
<rect x="1364.0" y="523.46" width="32.3" height="19.42" fill="#cc44b3"/>
<rect x="1396.3" y="523.46" width="32.3" height="19.42" fill="#f1949e"/>
<rect x="1428.7" y="523.46" width="32.3" height="19.42" fill="#a127c8"/>
<rect x="1461.0" y="523.46" width="32.3" height="19.42" fill="#f7aaa0"/>
<rect x="1493.4" y="523.46" width="32.3" height="19.42" fill="#8023c3"/>
<rect x="1525.7" y="523.46" width="32.3" height="19.42" fill="#f8b4a0"/>
<rect x="1558.1" y="523.46" width="32.3" height="19.42" fill="#6227b1"/>
<rect x="1590.4" y="523.46" width="32.3" height="19.42" fill="#f8b4a0"/>
<rect x="1622.7" y="523.46" width="32.3" height="19.42" fill="#4b2d9d"/>
<rect x="1655.1" y="523.46" width="32.3" height="19.42" fill="#f8b4a0"/>
<rect x="1687.4" y="523.46" width="32.3" height="19.42" fill="#452e93"/>
<rect x="1719.8" y="523.46" width="32.3" height="19.42" fill="#13254b"/>
<rect x="1752.1" y="523.46" width="32.3" height="19.42" fill="#542ba5"/>
<rect x="1784.5" y="523.46" width="32.3" height="19.42" fill="#0f2241"/>
<rect x="1816.8" y="523.46" width="97.0" height="19.42" fill="#f8b4a0"/>
<rect x="167.1" y="504.03" width="808.7" height="19.42" fill="#252a61"/>
<rect x="975.8" y="504.03" width="32.3" height="19.42" fill="#272a64"/>
<rect x="1008.2" y="504.03" width="32.3" height="19.42" fill="#282b66"/>
<rect x="1040.5" y="504.03" width="32.3" height="19.42" fill="#2a2b68"/>
<rect x="1072.8" y="504.03" width="32.3" height="19.42" fill="#2c2c6b"/>
<rect x="1105.2" y="504.03" width="32.3" height="19.42" fill="#2e2d6f"/>
<rect x="1137.5" y="504.03" width="32.3" height="19.42" fill="#312e74"/>
<rect x="1169.9" y="504.03" width="32.3" height="19.42" fill="#352f7b"/>
<rect x="1202.2" y="504.03" width="32.3" height="19.42" fill="#422e90"/>
<rect x="1234.6" y="504.03" width="32.3" height="19.42" fill="#5d28ac"/>
<rect x="1266.9" y="504.03" width="32.3" height="19.42" fill="#8922c7"/>
<rect x="1299.3" y="504.03" width="32.3" height="19.42" fill="#be34be"/>
<rect x="1331.6" y="504.03" width="32.3" height="19.42" fill="#f39d9f"/>
<rect x="1364.0" y="504.03" width="32.3" height="19.42" fill="#cc44b3"/>
<rect x="1396.3" y="504.03" width="32.3" height="19.42" fill="#f1949e"/>
<rect x="1428.7" y="504.03" width="32.3" height="19.42" fill="#a127c8"/>
<rect x="1461.0" y="504.03" width="32.3" height="19.42" fill="#f7aaa0"/>
<rect x="1493.4" y="504.03" width="32.3" height="19.42" fill="#8023c3"/>
<rect x="1525.7" y="504.03" width="32.3" height="19.42" fill="#f8b4a0"/>
<rect x="1558.1" y="504.03" width="32.3" height="19.42" fill="#6227b1"/>
<rect x="1590.4" y="504.03" width="32.3" height="19.42" fill="#f8b4a0"/>
<rect x="1622.7" y="504.03" width="32.3" height="19.42" fill="#4b2d9d"/>
<rect x="1655.1" y="504.03" width="32.3" height="19.42" fill="#f8b4a0"/>
<rect x="1687.4" y="504.03" width="32.3" height="19.42" fill="#452e93"/>
<rect x="1719.8" y="504.03" width="32.3" height="19.42" fill="#13254b"/>
<rect x="1752.1" y="504.03" width="32.3" height="19.42" fill="#542ba5"/>
<rect x="1784.5" y="504.03" width="32.3" height="19.42" fill="#0f2241"/>
<rect x="1816.8" y="504.03" width="97.0" height="19.42" fill="#f8b4a0"/>
<rect x="167.1" y="484.61" width="808.7" height="19.42" fill="#1f295b"/>
<rect x="975.8" y="484.61" width="97.0" height="19.42" fill="#21295d"/>
<rect x="1072.8" y="484.61" width="64.7" height="19.42" fill="#23295f"/>
<rect x="1137.5" y="484.61" width="32.3" height="19.42" fill="#262a62"/>
<rect x="1169.9" y="484.61" width="32.3" height="19.42" fill="#2a2b68"/>
<rect x="1202.2" y="484.61" width="32.3" height="19.42" fill="#2f2d70"/>
<rect x="1234.6" y="484.61" width="32.3" height="19.42" fill="#352f7a"/>
<rect x="1266.9" y="484.61" width="32.3" height="19.42" fill="#4a2d9c"/>
<rect x="1299.3" y="484.61" width="32.3" height="19.42" fill="#7d23c2"/>
<rect x="1331.6" y="484.61" width="32.3" height="19.42" fill="#c136bc"/>
<rect x="1364.0" y="484.61" width="32.3" height="19.42" fill="#cc44b3"/>
<rect x="1396.3" y="484.61" width="32.3" height="19.42" fill="#f1949e"/>
<rect x="1428.7" y="484.61" width="32.3" height="19.42" fill="#a127c8"/>
<rect x="1461.0" y="484.61" width="32.3" height="19.42" fill="#f7aaa0"/>
<rect x="1493.4" y="484.61" width="32.3" height="19.42" fill="#8023c3"/>
<rect x="1525.7" y="484.61" width="32.3" height="19.42" fill="#f8b4a0"/>
<rect x="1558.1" y="484.61" width="32.3" height="19.42" fill="#6227b1"/>
<rect x="1590.4" y="484.61" width="32.3" height="19.42" fill="#f8b4a0"/>
<rect x="1622.7" y="484.61" width="32.3" height="19.42" fill="#4b2d9d"/>
<rect x="1655.1" y="484.61" width="32.3" height="19.42" fill="#f8b4a0"/>
<rect x="1687.4" y="484.61" width="32.3" height="19.42" fill="#452e93"/>
<rect x="1719.8" y="484.61" width="32.3" height="19.42" fill="#13254b"/>
<rect x="1752.1" y="484.61" width="32.3" height="19.42" fill="#542ba5"/>
<rect x="1784.5" y="484.61" width="32.3" height="19.42" fill="#0f2241"/>
<rect x="1816.8" y="484.61" width="97.0" height="19.42" fill="#f8b4a0"/>
<rect x="167.1" y="465.19" width="905.7" height="19.42" fill="#1b2857"/>
<rect x="1072.8" y="465.19" width="64.7" height="19.42" fill="#1d2859"/>
<rect x="1137.5" y="465.19" width="32.3" height="19.42" fill="#20295c"/>
<rect x="1169.9" y="465.19" width="32.3" height="19.42" fill="#22295e"/>
<rect x="1202.2" y="465.19" width="32.3" height="19.42" fill="#242a60"/>
<rect x="1234.6" y="465.19" width="32.3" height="19.42" fill="#282b65"/>
<rect x="1266.9" y="465.19" width="32.3" height="19.42" fill="#302d71"/>
<rect x="1299.3" y="465.19" width="32.3" height="19.42" fill="#412e8e"/>
<rect x="1331.6" y="465.19" width="32.3" height="19.42" fill="#7624be"/>
<rect x="1364.0" y="465.19" width="32.3" height="19.42" fill="#cc44b3"/>
<rect x="1396.3" y="465.19" width="32.3" height="19.42" fill="#f1949e"/>
<rect x="1428.7" y="465.19" width="32.3" height="19.42" fill="#a127c8"/>
<rect x="1461.0" y="465.19" width="32.3" height="19.42" fill="#f7aaa0"/>
<rect x="1493.4" y="465.19" width="32.3" height="19.42" fill="#8023c3"/>
<rect x="1525.7" y="465.19" width="32.3" height="19.42" fill="#f8b4a0"/>
<rect x="1558.1" y="465.19" width="32.3" height="19.42" fill="#6227b1"/>
<rect x="1590.4" y="465.19" width="32.3" height="19.42" fill="#f8b4a0"/>
<rect x="1622.7" y="465.19" width="32.3" height="19.42" fill="#4b2d9d"/>
<rect x="1655.1" y="465.19" width="32.3" height="19.42" fill="#f8b4a0"/>
<rect x="1687.4" y="465.19" width="32.3" height="19.42" fill="#452e93"/>
<rect x="1719.8" y="465.19" width="32.3" height="19.42" fill="#13254b"/>
<rect x="1752.1" y="465.19" width="32.3" height="19.42" fill="#542ba5"/>
<rect x="1784.5" y="465.19" width="32.3" height="19.42" fill="#0f2241"/>
<rect x="1816.8" y="465.19" width="97.0" height="19.42" fill="#f8b4a0"/>
<rect x="167.1" y="445.76" width="905.7" height="19.42" fill="#182754"/>
<rect x="1072.8" y="445.76" width="64.7" height="19.42" fill="#1a2755"/>
<rect x="1137.5" y="445.76" width="64.7" height="19.42" fill="#1b2857"/>
<rect x="1202.2" y="445.76" width="32.3" height="19.42" fill="#1d2859"/>
<rect x="1234.6" y="445.76" width="32.3" height="19.42" fill="#20295c"/>
<rect x="1266.9" y="445.76" width="32.3" height="19.42" fill="#23295f"/>
<rect x="1299.3" y="445.76" width="32.3" height="19.42" fill="#2a2b69"/>
<rect x="1331.6" y="445.76" width="32.3" height="19.42" fill="#3b3084"/>
<rect x="1364.0" y="445.76" width="32.3" height="19.42" fill="#7524be"/>
<rect x="1396.3" y="445.76" width="32.3" height="19.42" fill="#f1949e"/>
<rect x="1428.7" y="445.76" width="32.3" height="19.42" fill="#a127c8"/>
<rect x="1461.0" y="445.76" width="32.3" height="19.42" fill="#f7aaa0"/>
<rect x="1493.4" y="445.76" width="32.3" height="19.42" fill="#8023c3"/>
<rect x="1525.7" y="445.76" width="32.3" height="19.42" fill="#f8b4a0"/>
<rect x="1558.1" y="445.76" width="32.3" height="19.42" fill="#6227b1"/>
<rect x="1590.4" y="445.76" width="32.3" height="19.42" fill="#f8b4a0"/>
<rect x="1622.7" y="445.76" width="32.3" height="19.42" fill="#4b2d9d"/>
<rect x="1655.1" y="445.76" width="32.3" height="19.42" fill="#f8b4a0"/>
<rect x="1687.4" y="445.76" width="32.3" height="19.42" fill="#452e93"/>
<rect x="1719.8" y="445.76" width="32.3" height="19.42" fill="#13254b"/>
<rect x="1752.1" y="445.76" width="32.3" height="19.42" fill="#542ba5"/>
<rect x="1784.5" y="445.76" width="32.3" height="19.42" fill="#0f2241"/>
<rect x="1816.8" y="445.76" width="97.0" height="19.42" fill="#f8b4a0"/>
<rect x="167.1" y="426.34" width="938.1" height="19.42" fill="#162651"/>
<rect x="1105.2" y="426.34" width="64.7" height="19.42" fill="#172753"/>
<rect x="1169.9" y="426.34" width="64.7" height="19.42" fill="#192754"/>
<rect x="1234.6" y="426.34" width="32.3" height="19.42" fill="#1a2856"/>
<rect x="1266.9" y="426.34" width="32.3" height="19.42" fill="#1c2858"/>
<rect x="1299.3" y="426.34" width="32.3" height="19.42" fill="#20295c"/>
<rect x="1331.6" y="426.34" width="32.3" height="19.42" fill="#262a62"/>
<rect x="1364.0" y="426.34" width="32.3" height="19.42" fill="#38307f"/>
<rect x="1396.3" y="426.34" width="32.3" height="19.42" fill="#7d23c2"/>
<rect x="1428.7" y="426.34" width="32.3" height="19.42" fill="#a127c8"/>
<rect x="1461.0" y="426.34" width="32.3" height="19.42" fill="#f7aaa0"/>
<rect x="1493.4" y="426.34" width="32.3" height="19.42" fill="#8023c3"/>
<rect x="1525.7" y="426.34" width="32.3" height="19.42" fill="#f8b4a0"/>
<rect x="1558.1" y="426.34" width="32.3" height="19.42" fill="#6227b1"/>
<rect x="1590.4" y="426.34" width="32.3" height="19.42" fill="#f8b4a0"/>
<rect x="1622.7" y="426.34" width="32.3" height="19.42" fill="#4b2d9d"/>
<rect x="1655.1" y="426.34" width="32.3" height="19.42" fill="#f8b4a0"/>
<rect x="1687.4" y="426.34" width="32.3" height="19.42" fill="#452e93"/>
<rect x="1719.8" y="426.34" width="32.3" height="19.42" fill="#13254b"/>
<rect x="1752.1" y="426.34" width="32.3" height="19.42" fill="#542ba5"/>
<rect x="1784.5" y="426.34" width="32.3" height="19.42" fill="#0f2241"/>
<rect x="1816.8" y="426.34" width="97.0" height="19.42" fill="#f8b4a0"/>
<rect x="167.1" y="406.91" width="841.0" height="19.42" fill="#14254c"/>
<rect x="1008.2" y="406.91" width="129.4" height="19.42" fill="#14254e"/>
<rect x="1137.5" y="406.91" width="64.7" height="19.42" fill="#152650"/>
<rect x="1202.2" y="406.91" width="64.7" height="19.42" fill="#162652"/>
<rect x="1266.9" y="406.91" width="32.3" height="19.42" fill="#182754"/>
<rect x="1299.3" y="406.91" width="32.3" height="19.42" fill="#1a2756"/>
<rect x="1331.6" y="406.91" width="32.3" height="19.42" fill="#1c2858"/>
<rect x="1364.0" y="406.91" width="32.3" height="19.42" fill="#23295f"/>
<rect x="1396.3" y="406.91" width="32.3" height="19.42" fill="#393081"/>
<rect x="1428.7" y="406.91" width="32.3" height="19.42" fill="#a127c8"/>
<rect x="1461.0" y="406.91" width="32.3" height="19.42" fill="#f7aaa0"/>
<rect x="1493.4" y="406.91" width="32.3" height="19.42" fill="#8023c3"/>
<rect x="1525.7" y="406.91" width="32.3" height="19.42" fill="#f8b4a0"/>
<rect x="1558.1" y="406.91" width="32.3" height="19.42" fill="#6227b1"/>
<rect x="1590.4" y="406.91" width="32.3" height="19.42" fill="#f8b4a0"/>
<rect x="1622.7" y="406.91" width="32.3" height="19.42" fill="#4b2d9d"/>
<rect x="1655.1" y="406.91" width="32.3" height="19.42" fill="#f8b4a0"/>
<rect x="1687.4" y="406.91" width="32.3" height="19.42" fill="#452e93"/>
<rect x="1719.8" y="406.91" width="32.3" height="19.42" fill="#13254b"/>
<rect x="1752.1" y="406.91" width="32.3" height="19.42" fill="#542ba5"/>
<rect x="1784.5" y="406.91" width="32.3" height="19.42" fill="#0f2241"/>
<rect x="1816.8" y="406.91" width="97.0" height="19.42" fill="#f8b4a0"/>
<rect x="167.1" y="387.49" width="938.1" height="19.42" fill="#122448"/>
<rect x="1105.2" y="387.49" width="64.7" height="19.42" fill="#13244a"/>
<rect x="1169.9" y="387.49" width="64.7" height="19.42" fill="#13254c"/>
<rect x="1234.6" y="387.49" width="32.3" height="19.42" fill="#14264e"/>
<rect x="1266.9" y="387.49" width="64.7" height="19.42" fill="#152650"/>
<rect x="1331.6" y="387.49" width="32.3" height="19.42" fill="#182753"/>
<rect x="1364.0" y="387.49" width="32.3" height="19.42" fill="#1a2856"/>
<rect x="1396.3" y="387.49" width="32.3" height="19.42" fill="#21295d"/>
<rect x="1428.7" y="387.49" width="32.3" height="19.42" fill="#3e2f88"/>
<rect x="1461.0" y="387.49" width="32.3" height="19.42" fill="#f7aaa0"/>
<rect x="1493.4" y="387.49" width="32.3" height="19.42" fill="#8023c3"/>
<rect x="1525.7" y="387.49" width="32.3" height="19.42" fill="#f8b4a0"/>
<rect x="1558.1" y="387.49" width="32.3" height="19.42" fill="#6227b1"/>
<rect x="1590.4" y="387.49" width="32.3" height="19.42" fill="#f8b4a0"/>
<rect x="1622.7" y="387.49" width="32.3" height="19.42" fill="#4b2d9d"/>
<rect x="1655.1" y="387.49" width="32.3" height="19.42" fill="#f8b4a0"/>
<rect x="1687.4" y="387.49" width="32.3" height="19.42" fill="#452e93"/>
<rect x="1719.8" y="387.49" width="32.3" height="19.42" fill="#13254b"/>
<rect x="1752.1" y="387.49" width="32.3" height="19.42" fill="#542ba5"/>
<rect x="1784.5" y="387.49" width="32.3" height="19.42" fill="#0f2241"/>
<rect x="1816.8" y="387.49" width="97.0" height="19.42" fill="#f8b4a0"/>
<rect x="167.1" y="368.07" width="938.1" height="19.42" fill="#102343"/>
<rect x="1105.2" y="368.07" width="97.0" height="19.42" fill="#112345"/>
<rect x="1202.2" y="368.07" width="64.7" height="19.42" fill="#122447"/>
<rect x="1266.9" y="368.07" width="32.3" height="19.42" fill="#132449"/>
<rect x="1299.3" y="368.07" width="32.3" height="19.42" fill="#13254b"/>
<rect x="1331.6" y="368.07" width="32.3" height="19.42" fill="#14264e"/>
<rect x="1364.0" y="368.07" width="32.3" height="19.42" fill="#162651"/>
<rect x="1396.3" y="368.07" width="32.3" height="19.42" fill="#192754"/>
<rect x="1428.7" y="368.07" width="32.3" height="19.42" fill="#20295c"/>
<rect x="1461.0" y="368.07" width="32.3" height="19.42" fill="#4a2d9c"/>
<rect x="1493.4" y="368.07" width="32.3" height="19.42" fill="#8023c3"/>
<rect x="1525.7" y="368.07" width="32.3" height="19.42" fill="#f8b4a0"/>
<rect x="1558.1" y="368.07" width="32.3" height="19.42" fill="#6227b1"/>
<rect x="1590.4" y="368.07" width="32.3" height="19.42" fill="#f8b4a0"/>
<rect x="1622.7" y="368.07" width="32.3" height="19.42" fill="#4b2d9d"/>
<rect x="1655.1" y="368.07" width="32.3" height="19.42" fill="#f8b4a0"/>
<rect x="1687.4" y="368.07" width="32.3" height="19.42" fill="#452e93"/>
<rect x="1719.8" y="368.07" width="32.3" height="19.42" fill="#13254b"/>
<rect x="1752.1" y="368.07" width="32.3" height="19.42" fill="#542ba5"/>
<rect x="1784.5" y="368.07" width="32.3" height="19.42" fill="#0f2241"/>
<rect x="1816.8" y="368.07" width="97.0" height="19.42" fill="#f8b4a0"/>
<rect x="167.1" y="348.64" width="970.4" height="19.42" fill="#0d2240"/>
<rect x="1137.5" y="348.64" width="97.0" height="19.42" fill="#0f2240"/>
<rect x="1234.6" y="348.64" width="64.7" height="19.42" fill="#102242"/>
<rect x="1299.3" y="348.64" width="32.3" height="19.42" fill="#112345"/>
<rect x="1331.6" y="348.64" width="32.3" height="19.42" fill="#122447"/>
<rect x="1364.0" y="348.64" width="32.3" height="19.42" fill="#13254a"/>
<rect x="1396.3" y="348.64" width="32.3" height="19.42" fill="#14264e"/>
<rect x="1428.7" y="348.64" width="32.3" height="19.42" fill="#182753"/>
<rect x="1461.0" y="348.64" width="32.3" height="19.42" fill="#21295d"/>
<rect x="1493.4" y="348.64" width="32.3" height="19.42" fill="#8023c3"/>
<rect x="1525.7" y="348.64" width="32.3" height="19.42" fill="#f8b4a0"/>
<rect x="1558.1" y="348.64" width="32.3" height="19.42" fill="#6227b1"/>
<rect x="1590.4" y="348.64" width="32.3" height="19.42" fill="#f8b4a0"/>
<rect x="1622.7" y="348.64" width="32.3" height="19.42" fill="#4b2d9d"/>
<rect x="1655.1" y="348.64" width="32.3" height="19.42" fill="#f8b4a0"/>
<rect x="1687.4" y="348.64" width="32.3" height="19.42" fill="#452e93"/>
<rect x="1719.8" y="348.64" width="32.3" height="19.42" fill="#13254b"/>
<rect x="1752.1" y="348.64" width="32.3" height="19.42" fill="#542ba5"/>
<rect x="1784.5" y="348.64" width="32.3" height="19.42" fill="#0f2241"/>
<rect x="1816.8" y="348.64" width="97.0" height="19.42" fill="#f8b4a0"/>
<rect x="167.1" y="329.22" width="1164.5" height="19.42" fill="#0c2240"/>
<rect x="1331.6" y="329.22" width="32.3" height="19.42" fill="#0f2240"/>
<rect x="1364.0" y="329.22" width="32.3" height="19.42" fill="#102343"/>
<rect x="1396.3" y="329.22" width="32.3" height="19.42" fill="#112446"/>
<rect x="1428.7" y="329.22" width="32.3" height="19.42" fill="#13254b"/>
<rect x="1461.0" y="329.22" width="32.3" height="19.42" fill="#172752"/>
<rect x="1493.4" y="329.22" width="32.3" height="19.42" fill="#252a61"/>
<rect x="1525.7" y="329.22" width="32.3" height="19.42" fill="#f8b4a0"/>
<rect x="1558.1" y="329.22" width="32.3" height="19.42" fill="#6227b1"/>
<rect x="1590.4" y="329.22" width="32.3" height="19.42" fill="#f8b4a0"/>
<rect x="1622.7" y="329.22" width="32.3" height="19.42" fill="#4b2d9d"/>
<rect x="1655.1" y="329.22" width="32.3" height="19.42" fill="#f8b4a0"/>
<rect x="1687.4" y="329.22" width="32.3" height="19.42" fill="#452e93"/>
<rect x="1719.8" y="329.22" width="32.3" height="19.42" fill="#13254b"/>
<rect x="1752.1" y="329.22" width="32.3" height="19.42" fill="#542ba5"/>
<rect x="1784.5" y="329.22" width="32.3" height="19.42" fill="#0f2241"/>
<rect x="1816.8" y="329.22" width="97.0" height="19.42" fill="#f8b4a0"/>
<rect x="167.1" y="309.80" width="1229.2" height="19.42" fill="#0c2240"/>
<rect x="1396.3" y="309.80" width="32.3" height="19.42" fill="#0e2240"/>
<rect x="1428.7" y="309.80" width="32.3" height="19.42" fill="#102343"/>
<rect x="1461.0" y="309.80" width="32.3" height="19.42" fill="#122449"/>
<rect x="1493.4" y="309.80" width="32.3" height="19.42" fill="#172752"/>
<rect x="1525.7" y="309.80" width="32.3" height="19.42" fill="#322e75"/>
<rect x="1558.1" y="309.80" width="32.3" height="19.42" fill="#6227b1"/>
<rect x="1590.4" y="309.80" width="32.3" height="19.42" fill="#f8b4a0"/>
<rect x="1622.7" y="309.80" width="32.3" height="19.42" fill="#4b2d9d"/>
<rect x="1655.1" y="309.80" width="32.3" height="19.42" fill="#f8b4a0"/>
<rect x="1687.4" y="309.80" width="32.3" height="19.42" fill="#452e93"/>
<rect x="1719.8" y="309.80" width="32.3" height="19.42" fill="#13254b"/>
<rect x="1752.1" y="309.80" width="32.3" height="19.42" fill="#542ba5"/>
<rect x="1784.5" y="309.80" width="32.3" height="19.42" fill="#0f2241"/>
<rect x="1816.8" y="309.80" width="97.0" height="19.42" fill="#f8b4a0"/>
<rect x="167.1" y="290.37" width="1293.9" height="19.42" fill="#0c2240"/>
<rect x="1461.0" y="290.37" width="32.3" height="19.42" fill="#0f2240"/>
<rect x="1493.4" y="290.37" width="32.3" height="19.42" fill="#122447"/>
<rect x="1525.7" y="290.37" width="32.3" height="19.42" fill="#172753"/>
<rect x="1558.1" y="290.37" width="32.3" height="19.42" fill="#6227b1"/>
<rect x="1590.4" y="290.37" width="32.3" height="19.42" fill="#f8b4a0"/>
<rect x="1622.7" y="290.37" width="32.3" height="19.42" fill="#4b2d9d"/>
<rect x="1655.1" y="290.37" width="32.3" height="19.42" fill="#f8b4a0"/>
<rect x="1687.4" y="290.37" width="32.3" height="19.42" fill="#452e93"/>
<rect x="1719.8" y="290.37" width="32.3" height="19.42" fill="#13254b"/>
<rect x="1752.1" y="290.37" width="32.3" height="19.42" fill="#542ba5"/>
<rect x="1784.5" y="290.37" width="32.3" height="19.42" fill="#0f2241"/>
<rect x="1816.8" y="290.37" width="97.0" height="19.42" fill="#f8b4a0"/>
<rect x="167.1" y="270.95" width="1358.6" height="19.42" fill="#0c2240"/>
<rect x="1525.7" y="270.95" width="32.3" height="19.42" fill="#112346"/>
<rect x="1558.1" y="270.95" width="32.3" height="19.42" fill="#192755"/>
<rect x="1590.4" y="270.95" width="32.3" height="19.42" fill="#f8b4a0"/>
<rect x="1622.7" y="270.95" width="32.3" height="19.42" fill="#4b2d9d"/>
<rect x="1655.1" y="270.95" width="32.3" height="19.42" fill="#f8b4a0"/>
<rect x="1687.4" y="270.95" width="32.3" height="19.42" fill="#452e93"/>
<rect x="1719.8" y="270.95" width="32.3" height="19.42" fill="#13254b"/>
<rect x="1752.1" y="270.95" width="32.3" height="19.42" fill="#542ba5"/>
<rect x="1784.5" y="270.95" width="32.3" height="19.42" fill="#0f2241"/>
<rect x="1816.8" y="270.95" width="97.0" height="19.42" fill="#f8b4a0"/>
<rect x="167.1" y="251.53" width="1390.9" height="19.42" fill="#0c2240"/>
<rect x="1558.1" y="251.53" width="32.3" height="19.42" fill="#112346"/>
<rect x="1590.4" y="251.53" width="32.3" height="19.42" fill="#20295c"/>
<rect x="1622.7" y="251.53" width="32.3" height="19.42" fill="#4b2d9d"/>
<rect x="1655.1" y="251.53" width="32.3" height="19.42" fill="#f8b4a0"/>
<rect x="1687.4" y="251.53" width="32.3" height="19.42" fill="#452e93"/>
<rect x="1719.8" y="251.53" width="32.3" height="19.42" fill="#13254b"/>
<rect x="1752.1" y="251.53" width="32.3" height="19.42" fill="#542ba5"/>
<rect x="1784.5" y="251.53" width="32.3" height="19.42" fill="#0f2241"/>
<rect x="1816.8" y="251.53" width="97.0" height="19.42" fill="#f8b4a0"/>
<rect x="167.1" y="232.10" width="1423.3" height="19.42" fill="#0c2240"/>
<rect x="1590.4" y="232.10" width="32.3" height="19.42" fill="#122447"/>
<rect x="1622.7" y="232.10" width="32.3" height="19.42" fill="#4b2d9d"/>
<rect x="1655.1" y="232.10" width="32.3" height="19.42" fill="#f8b4a0"/>
<rect x="1687.4" y="232.10" width="32.3" height="19.42" fill="#452e93"/>
<rect x="1719.8" y="232.10" width="32.3" height="19.42" fill="#13254b"/>
<rect x="1752.1" y="232.10" width="32.3" height="19.42" fill="#542ba5"/>
<rect x="1784.5" y="232.10" width="32.3" height="19.42" fill="#0f2241"/>
<rect x="1816.8" y="232.10" width="97.0" height="19.42" fill="#f8b4a0"/>
<rect x="167.1" y="212.68" width="1455.6" height="19.42" fill="#0c2240"/>
<rect x="1622.7" y="212.68" width="32.3" height="19.42" fill="#13254b"/>
<rect x="1655.1" y="212.68" width="32.3" height="19.42" fill="#f8b4a0"/>
<rect x="1687.4" y="212.68" width="32.3" height="19.42" fill="#452e93"/>
<rect x="1719.8" y="212.68" width="32.3" height="19.42" fill="#13254b"/>
<rect x="1752.1" y="212.68" width="32.3" height="19.42" fill="#542ba5"/>
<rect x="1784.5" y="212.68" width="32.3" height="19.42" fill="#0f2241"/>
<rect x="1816.8" y="212.68" width="97.0" height="19.42" fill="#f8b4a0"/>
<rect x="167.1" y="193.25" width="1488.0" height="19.42" fill="#0c2240"/>
<rect x="1655.1" y="193.25" width="32.3" height="19.42" fill="#182753"/>
<rect x="1687.4" y="193.25" width="32.3" height="19.42" fill="#452e93"/>
<rect x="1719.8" y="193.25" width="32.3" height="19.42" fill="#13254b"/>
<rect x="1752.1" y="193.25" width="32.3" height="19.42" fill="#542ba5"/>
<rect x="1784.5" y="193.25" width="32.3" height="19.42" fill="#0f2241"/>
<rect x="1816.8" y="193.25" width="97.0" height="19.42" fill="#f8b4a0"/>
<rect x="167.1" y="173.83" width="1520.3" height="19.42" fill="#0c2240"/>
<rect x="1687.4" y="173.83" width="32.3" height="19.42" fill="#452e93"/>
<rect x="1719.8" y="173.83" width="32.3" height="19.42" fill="#13254b"/>
<rect x="1752.1" y="173.83" width="32.3" height="19.42" fill="#542ba5"/>
<rect x="1784.5" y="173.83" width="32.3" height="19.42" fill="#0f2241"/>
<rect x="1816.8" y="173.83" width="97.0" height="19.42" fill="#f8b4a0"/>
<rect x="167.1" y="154.41" width="1520.3" height="19.42" fill="#0c2240"/>
<rect x="1687.4" y="154.41" width="32.3" height="19.42" fill="#0e2240"/>
<rect x="1719.8" y="154.41" width="32.3" height="19.42" fill="#13254b"/>
<rect x="1752.1" y="154.41" width="32.3" height="19.42" fill="#542ba5"/>
<rect x="1784.5" y="154.41" width="32.3" height="19.42" fill="#0f2241"/>
<rect x="1816.8" y="154.41" width="97.0" height="19.42" fill="#f8b4a0"/>
<rect x="167.1" y="134.98" width="1552.7" height="19.42" fill="#0c2240"/>
<rect x="1719.8" y="134.98" width="32.3" height="19.42" fill="#13254b"/>
<rect x="1752.1" y="134.98" width="32.3" height="19.42" fill="#542ba5"/>
<rect x="1784.5" y="134.98" width="32.3" height="19.42" fill="#0f2241"/>
<rect x="1816.8" y="134.98" width="97.0" height="19.42" fill="#f8b4a0"/>
<rect x="167.1" y="115.56" width="1585.0" height="19.42" fill="#0c2240"/>
<rect x="1752.1" y="115.56" width="32.3" height="19.42" fill="#542ba5"/>
<rect x="1784.5" y="115.56" width="32.3" height="19.42" fill="#0f2241"/>
<rect x="1816.8" y="115.56" width="97.0" height="19.42" fill="#f8b4a0"/>
<rect x="167.1" y="96.14" width="1617.3" height="19.42" fill="#0c2240"/>
<rect x="1784.5" y="96.14" width="32.3" height="19.42" fill="#0f2241"/>
<rect x="1816.8" y="96.14" width="97.0" height="19.42" fill="#f8b4a0"/>
<rect x="167.1" y="76.71" width="1617.3" height="19.42" fill="#0c2240"/>
<rect x="1784.5" y="76.71" width="32.3" height="19.42" fill="#0f2241"/>
<rect x="1816.8" y="76.71" width="97.0" height="19.42" fill="#f8b4a0"/>
<rect x="167.1" y="57.29" width="1649.7" height="19.42" fill="#0c2240"/>
<rect x="1816.8" y="57.29" width="97.0" height="19.42" fill="#f8b4a0"/>
</g>
<rect x="442.1" y="941.1" width="64.7" height="38.8" fill="url(#ty)" mask="url(#tx)" opacity="0.65"/>
<rect x="474.4" y="941.1" width="64.7" height="38.8" fill="url(#ty)" mask="url(#tx)" opacity="0.65"/>
<rect x="506.8" y="941.1" width="64.7" height="38.8" fill="url(#ty)" mask="url(#tx)" opacity="0.65"/>
<rect x="539.1" y="941.1" width="64.7" height="38.8" fill="url(#ty)" mask="url(#tx)" opacity="0.65"/>
<rect x="571.5" y="941.1" width="64.7" height="38.8" fill="url(#ty)" mask="url(#tx)" opacity="0.65"/>
<rect x="603.8" y="941.1" width="64.7" height="38.8" fill="url(#ty)" mask="url(#tx)" opacity="0.65"/>
<rect x="636.2" y="941.1" width="64.7" height="38.8" fill="url(#ty)" mask="url(#tx)" opacity="0.65"/>
<rect x="668.5" y="921.6" width="64.7" height="38.8" fill="url(#ty)" mask="url(#tx)" opacity="0.65"/>
<rect x="700.9" y="921.6" width="64.7" height="38.8" fill="url(#ty)" mask="url(#tx)" opacity="0.65"/>
<rect x="733.2" y="921.6" width="64.7" height="38.8" fill="url(#ty)" mask="url(#tx)" opacity="0.65"/>
<rect x="765.6" y="902.2" width="64.7" height="38.8" fill="url(#ty)" mask="url(#tx)" opacity="0.65"/>
<rect x="797.9" y="902.2" width="64.7" height="38.8" fill="url(#ty)" mask="url(#tx)" opacity="0.65"/>
<rect x="830.2" y="882.8" width="64.7" height="38.8" fill="url(#ty)" mask="url(#tx)" opacity="0.65"/>
<rect x="862.6" y="863.4" width="64.7" height="38.8" fill="url(#ty)" mask="url(#tx)" opacity="0.65"/>
<rect x="894.9" y="843.9" width="64.7" height="38.8" fill="url(#ty)" mask="url(#tx)" opacity="0.65"/>
<rect x="894.9" y="863.4" width="64.7" height="38.8" fill="url(#ty)" mask="url(#tx)" opacity="0.65"/>
<rect x="927.3" y="824.5" width="64.7" height="38.8" fill="url(#ty)" mask="url(#tx)" opacity="0.65"/>
<rect x="927.3" y="843.9" width="64.7" height="38.8" fill="url(#ty)" mask="url(#tx)" opacity="0.65"/>
<rect x="959.6" y="805.1" width="64.7" height="38.8" fill="url(#ty)" mask="url(#tx)" opacity="0.65"/>
<rect x="959.6" y="824.5" width="64.7" height="38.8" fill="url(#ty)" mask="url(#tx)" opacity="0.65"/>
<rect x="992.0" y="785.7" width="64.7" height="38.8" fill="url(#ty)" mask="url(#tx)" opacity="0.65"/>
<rect x="992.0" y="805.1" width="64.7" height="38.8" fill="url(#ty)" mask="url(#tx)" opacity="0.65"/>
<rect x="1024.3" y="766.3" width="64.7" height="38.8" fill="url(#ty)" mask="url(#tx)" opacity="0.65"/>
<rect x="1024.3" y="785.7" width="64.7" height="38.8" fill="url(#ty)" mask="url(#tx)" opacity="0.65"/>
<rect x="1056.7" y="746.8" width="64.7" height="38.8" fill="url(#ty)" mask="url(#tx)" opacity="0.65"/>
<rect x="1089.0" y="708.0" width="64.7" height="38.8" fill="url(#ty)" mask="url(#tx)" opacity="0.65"/>
<rect x="1089.0" y="727.4" width="64.7" height="38.8" fill="url(#ty)" mask="url(#tx)" opacity="0.65"/>
<rect x="1121.4" y="688.6" width="64.7" height="38.8" fill="url(#ty)" mask="url(#tx)" opacity="0.65"/>
<rect x="1121.4" y="708.0" width="64.7" height="38.8" fill="url(#ty)" mask="url(#tx)" opacity="0.65"/>
<rect x="1153.7" y="649.7" width="64.7" height="38.8" fill="url(#ty)" mask="url(#tx)" opacity="0.65"/>
<rect x="1153.7" y="669.1" width="64.7" height="38.8" fill="url(#ty)" mask="url(#tx)" opacity="0.65"/>
<rect x="1186.1" y="630.3" width="64.7" height="38.8" fill="url(#ty)" mask="url(#tx)" opacity="0.65"/>
<rect x="1186.1" y="649.7" width="64.7" height="38.8" fill="url(#ty)" mask="url(#tx)" opacity="0.65"/>
<rect x="1218.4" y="591.4" width="64.7" height="38.8" fill="url(#ty)" mask="url(#tx)" opacity="0.65"/>
<rect x="1218.4" y="610.9" width="64.7" height="38.8" fill="url(#ty)" mask="url(#tx)" opacity="0.65"/>
<rect x="1250.8" y="572.0" width="64.7" height="38.8" fill="url(#ty)" mask="url(#tx)" opacity="0.65"/>
<rect x="1250.8" y="591.4" width="64.7" height="38.8" fill="url(#ty)" mask="url(#tx)" opacity="0.65"/>
<rect x="1283.1" y="533.2" width="64.7" height="38.8" fill="url(#ty)" mask="url(#tx)" opacity="0.65"/>
<rect x="1283.1" y="552.6" width="64.7" height="38.8" fill="url(#ty)" mask="url(#tx)" opacity="0.65"/>
<rect x="1283.1" y="572.0" width="64.7" height="38.8" fill="url(#ty)" mask="url(#tx)" opacity="0.65"/>
<rect x="1315.4" y="513.7" width="64.7" height="38.8" fill="url(#ty)" mask="url(#tx)" opacity="0.65"/>
<rect x="1315.4" y="533.2" width="64.7" height="38.8" fill="url(#ty)" mask="url(#tx)" opacity="0.65"/>
<rect x="1347.8" y="474.9" width="64.7" height="38.8" fill="url(#ty)" mask="url(#tx)" opacity="0.65"/>
<rect x="1347.8" y="494.3" width="64.7" height="38.8" fill="url(#ty)" mask="url(#tx)" opacity="0.65"/>
<rect x="1380.1" y="455.5" width="64.7" height="38.8" fill="url(#ty)" mask="url(#tx)" opacity="0.65"/>
<rect x="1380.1" y="474.9" width="64.7" height="38.8" fill="url(#ty)" mask="url(#tx)" opacity="0.65"/>
<rect x="1412.5" y="416.6" width="64.7" height="38.8" fill="url(#ty)" mask="url(#tx)" opacity="0.65"/>
<rect x="1412.5" y="436.1" width="64.7" height="38.8" fill="url(#ty)" mask="url(#tx)" opacity="0.65"/>
<rect x="1444.8" y="397.2" width="64.7" height="38.8" fill="url(#ty)" mask="url(#tx)" opacity="0.65"/>
<rect x="1444.8" y="416.6" width="64.7" height="38.8" fill="url(#ty)" mask="url(#tx)" opacity="0.65"/>
<rect x="1477.2" y="358.4" width="64.7" height="38.8" fill="url(#ty)" mask="url(#tx)" opacity="0.65"/>
<rect x="1477.2" y="377.8" width="64.7" height="38.8" fill="url(#ty)" mask="url(#tx)" opacity="0.65"/>
<rect x="1509.5" y="338.9" width="64.7" height="38.8" fill="url(#ty)" mask="url(#tx)" opacity="0.65"/>
<rect x="1509.5" y="358.4" width="64.7" height="38.8" fill="url(#ty)" mask="url(#tx)" opacity="0.65"/>
<rect x="1541.9" y="300.1" width="64.7" height="38.8" fill="url(#ty)" mask="url(#tx)" opacity="0.65"/>
<rect x="1541.9" y="319.5" width="64.7" height="38.8" fill="url(#ty)" mask="url(#tx)" opacity="0.65"/>
<rect x="1574.2" y="280.7" width="64.7" height="38.8" fill="url(#ty)" mask="url(#tx)" opacity="0.65"/>
<rect x="1574.2" y="300.1" width="64.7" height="38.8" fill="url(#ty)" mask="url(#tx)" opacity="0.65"/>
<rect x="1606.6" y="241.8" width="64.7" height="38.8" fill="url(#ty)" mask="url(#tx)" opacity="0.65"/>
<rect x="1606.6" y="261.2" width="64.7" height="38.8" fill="url(#ty)" mask="url(#tx)" opacity="0.65"/>
<rect x="1638.9" y="222.4" width="64.7" height="38.8" fill="url(#ty)" mask="url(#tx)" opacity="0.65"/>
<rect x="1638.9" y="241.8" width="64.7" height="38.8" fill="url(#ty)" mask="url(#tx)" opacity="0.65"/>
<rect x="1671.3" y="183.5" width="64.7" height="38.8" fill="url(#ty)" mask="url(#tx)" opacity="0.65"/>
<rect x="1671.3" y="203.0" width="64.7" height="38.8" fill="url(#ty)" mask="url(#tx)" opacity="0.65"/>
<rect x="1703.6" y="144.7" width="64.7" height="38.8" fill="url(#ty)" mask="url(#tx)" opacity="0.65"/>
<rect x="1703.6" y="164.1" width="64.7" height="38.8" fill="url(#ty)" mask="url(#tx)" opacity="0.65"/>
<rect x="1703.6" y="183.5" width="64.7" height="38.8" fill="url(#ty)" mask="url(#tx)" opacity="0.65"/>
<rect x="1736.0" y="125.3" width="64.7" height="38.8" fill="url(#ty)" mask="url(#tx)" opacity="0.65"/>
<rect x="1736.0" y="144.7" width="64.7" height="38.8" fill="url(#ty)" mask="url(#tx)" opacity="0.65"/>
<rect x="1768.3" y="86.4" width="64.7" height="38.8" fill="url(#ty)" mask="url(#tx)" opacity="0.65"/>
<rect x="1768.3" y="105.8" width="64.7" height="38.8" fill="url(#ty)" mask="url(#tx)" opacity="0.65"/>
<rect x="1800.7" y="67.0" width="64.7" height="38.8" fill="url(#ty)" mask="url(#tx)" opacity="0.65"/>
<rect x="1800.7" y="86.4" width="64.7" height="38.8" fill="url(#ty)" mask="url(#tx)" opacity="0.65"/>
</g></g>
<rect x="248.0" y="57" width="1585.0" height="11.5" fill="#000"/>
<linearGradient id="bt" x1="1790" y1="0" x2="1833" y2="0" gradientUnits="userSpaceOnUse"><stop offset="0" stop-color="#06213f" stop-opacity="0"/><stop offset="1" stop-color="#06213f" stop-opacity="1"/></linearGradient>
<rect x="1790" y="57.5" width="43.0" height="6.5" fill="url(#bt)"/>
<g clip-path="url(#ax)">
<line x1="248.0" y1="1543.2" x2="1833.0" y2="67.0" stroke="#d3d3d3" stroke-width="13.2" stroke-linecap="square"/>
<path d="M248 354.7 L334.5 354.7 L420.9 354.7 L507.4 354.7 L536.2 354.7 L555.4 354.7 L574.6 354.7 L593.8 354.7 L613 354.6 L632.2 354.6 L651.5 354.6 L670.7 354.6 L689.9 354.6 L709.1 354.6 L728.3 354.5 L747.5 354.5 L766.7 354.5 L785.9 354.4 L805.2 354.4 L824.4 354.3 L843.6 354.2 L862.8 354.1 L882 354 L901.2 353.9 L920.4 353.8 L939.6 353.6 L958.8 353.5 L978.1 353.2 L997.3 353 L1016.5 352.7 L1035.7 352.4 L1054.9 352 L1074.1 351.6 L1093.3 351.1 L1112.5 350.5 L1131.8 349.8 L1151 349 L1170.2 348 L1189.4 347 L1208.6 345.7 L1227.8 344.3 L1247 342.6 L1266.2 340.7 L1285.5 338.6 L1304.7 336.1 L1323.9 333.3 L1343.1 330.1 L1362.3 326.4 L1381.5 322.4 L1400.7 317.8 L1419.9 312.6 L1439.2 306.9 L1458.4 300.6 L1477.6 293.6 L1496.8 285.9 L1516 277.6 L1535.2 268.6 L1554.4 258.9 L1573.6 248.6 L1592.8 237.6 L1612.1 225.9 L1631.3 213.6 L1650.5 200.8 L1669.7 187.4 L1688.9 173.5 L1708.1 159.2 L1727.3 144.4 L1746.5 129.3 L1765.8 113.8 L1785 98.1 L1804.2 82 L1823.4 65.7 L1842.6 49.2 L1861.8 32.6" fill="none" stroke="#ff8c00" stroke-width="12.5" stroke-linejoin="round"/>
<line x1="536.2" y1="1543.2" x2="536.2" y2="67.0" stroke="#000" stroke-width="7.6" stroke-dasharray="7.60 12.40"/>
<line x1="1256.6" y1="1543.2" x2="1256.6" y2="67.0" stroke="#808080" stroke-width="7.6" stroke-dasharray="7.60 12.40"/>
<line x1="248.0" y1="485.2" x2="1833.0" y2="485.2" stroke="#00ced1" stroke-width="7.6" stroke-dasharray="27.9 12.1"/>
<line x1="248.0" y1="1161.3" x2="1833.0" y2="1161.3" stroke="#228b22" stroke-width="7.6" stroke-dasharray="27.9 12.1"/>
</g>
<path d="M1354.4 442 L1364.1 471.9 L1395.6 471.9 L1370.1 490.4 L1379.9 520.3 L1354.4 501.8 L1328.9 520.3 L1338.7 490.4 L1313.2 471.9 L1344.7 471.9Z" fill="#afeeee" stroke="#000" stroke-width="4.4" stroke-linejoin="round"/>
<rect x="1040" y="1192.4" width="733.3" height="320" rx="11" ry="11" fill="#fff" stroke="#cccccc" stroke-width="3.4"/>
<line x1="1046.4" y1="1220.2" x2="1171.4" y2="1220.2" stroke="#00ced1" stroke-width="7.6" stroke-dasharray="27.9 12.1"/>
<line x1="1046.4" y1="1282.0" x2="1171.4" y2="1282.0" stroke="#ff8c00" stroke-width="12.5" stroke-linecap="square"/>
<line x1="1046.4" y1="1343.9" x2="1171.4" y2="1343.9" stroke="#000" stroke-width="7.6" stroke-dasharray="7.60 12.40"/>
<line x1="1046.4" y1="1405.5" x2="1171.4" y2="1405.5" stroke="#808080" stroke-width="7.6" stroke-dasharray="7.60 12.40"/>
<line x1="1046.4" y1="1469.3" x2="1171.4" y2="1469.3" stroke="#228b22" stroke-width="7.6" stroke-dasharray="27.9 12.1"/>
<rect x="248.0" y="67.0" width="1585.0" height="1476.2" fill="none" stroke="#000" stroke-width="3.4"/>
<line x1="392.1" y1="1543.2" x2="392.1" y2="1558.6000000000001" stroke="#000" stroke-width="3.4"/>
<line x1="232.6" y1="1409.0" x2="248.0" y2="1409.0" stroke="#000" stroke-width="3.4"/>
<line x1="680.3" y1="1543.2" x2="680.3" y2="1558.6000000000001" stroke="#000" stroke-width="3.4"/>
<line x1="232.6" y1="1140.6" x2="248.0" y2="1140.6" stroke="#000" stroke-width="3.4"/>
<line x1="968.5" y1="1543.2" x2="968.5" y2="1558.6000000000001" stroke="#000" stroke-width="3.4"/>
<line x1="232.6" y1="872.2" x2="248.0" y2="872.2" stroke="#000" stroke-width="3.4"/>
<line x1="1256.6" y1="1543.2" x2="1256.6" y2="1558.6000000000001" stroke="#000" stroke-width="3.4"/>
<line x1="232.6" y1="603.8" x2="248.0" y2="603.8" stroke="#000" stroke-width="3.4"/>
<line x1="1544.8" y1="1543.2" x2="1544.8" y2="1558.6000000000001" stroke="#000" stroke-width="3.4"/>
<line x1="232.6" y1="335.4" x2="248.0" y2="335.4" stroke="#000" stroke-width="3.4"/>
<line x1="1833.0" y1="1543.2" x2="1833.0" y2="1558.6000000000001" stroke="#000" stroke-width="3.4"/>
<line x1="232.6" y1="67.0" x2="248.0" y2="67.0" stroke="#000" stroke-width="3.4"/>
<rect x="1932.0" y="67.0" width="73.5" height="1475.8" fill="url(#cb)" stroke="#000" stroke-width="3.4"/>
<line x1="2005.5" y1="243.8" x2="2020.9" y2="243.8" stroke="#000" stroke-width="3.4"/>
<line x1="2005.5" y1="439.5" x2="2020.9" y2="439.5" stroke="#000" stroke-width="3.4"/>
<line x1="2005.5" y1="635.2" x2="2020.9" y2="635.2" stroke="#000" stroke-width="3.4"/>
<line x1="2005.5" y1="831.0" x2="2020.9" y2="831.0" stroke="#000" stroke-width="3.4"/>
<line x1="2005.5" y1="1026.7" x2="2020.9" y2="1026.7" stroke="#000" stroke-width="3.4"/>
<line x1="2005.5" y1="1222.4" x2="2020.9" y2="1222.4" stroke="#000" stroke-width="3.4"/>
<line x1="2005.5" y1="1418.1" x2="2020.9" y2="1418.1" stroke="#000" stroke-width="3.4"/>
<text x="139.73" y="1436.70" font-size="64"  textLength="45.36" lengthAdjust="spacingAndGlyphs">−</text>
<text x="187.33" y="1431.70" font-size="64"  textLength="28.36" lengthAdjust="spacingAndGlyphs">6</text>
<text x="139.73" y="1168.30" font-size="64"  textLength="45.36" lengthAdjust="spacingAndGlyphs">−</text>
<text x="186.24" y="1163.30" font-size="64"  textLength="30.46" lengthAdjust="spacingAndGlyphs">5</text>
<text x="139.73" y="899.90" font-size="64"  textLength="45.36" lengthAdjust="spacingAndGlyphs">−</text>
<text x="188.24" y="894.90" font-size="64"  textLength="27.41" lengthAdjust="spacingAndGlyphs">4</text>
<text x="139.73" y="631.50" font-size="64"  textLength="45.36" lengthAdjust="spacingAndGlyphs">−</text>
<text x="186.24" y="626.50" font-size="64"  textLength="30.46" lengthAdjust="spacingAndGlyphs">3</text>
<text x="139.73" y="363.10" font-size="64"  textLength="45.36" lengthAdjust="spacingAndGlyphs">−</text>
<text x="187.20" y="358.10" font-size="64"  textLength="30.46" lengthAdjust="spacingAndGlyphs">2</text>
<text x="139.73" y="94.70" font-size="64"  textLength="45.36" lengthAdjust="spacingAndGlyphs">−</text>
<text x="186.95" y="89.70" font-size="64"  textLength="27.87" lengthAdjust="spacingAndGlyphs">1</text>
<text x="354.09" y="1622.30" font-size="64"  textLength="44.52" lengthAdjust="spacingAndGlyphs">−</text>
<text x="401.02" y="1617.30" font-size="64"  textLength="28.36" lengthAdjust="spacingAndGlyphs">6</text>
<text x="642.27" y="1622.30" font-size="64"  textLength="44.52" lengthAdjust="spacingAndGlyphs">−</text>
<text x="688.12" y="1617.30" font-size="64"  textLength="30.46" lengthAdjust="spacingAndGlyphs">5</text>
<text x="930.45" y="1622.30" font-size="64"  textLength="44.52" lengthAdjust="spacingAndGlyphs">−</text>
<text x="978.30" y="1617.30" font-size="64"  textLength="27.41" lengthAdjust="spacingAndGlyphs">4</text>
<text x="1218.64" y="1622.30" font-size="64"  textLength="44.52" lengthAdjust="spacingAndGlyphs">−</text>
<text x="1264.48" y="1617.30" font-size="64"  textLength="30.46" lengthAdjust="spacingAndGlyphs">3</text>
<text x="1506.82" y="1622.30" font-size="64"  textLength="44.52" lengthAdjust="spacingAndGlyphs">−</text>
<text x="1553.61" y="1617.30" font-size="64"  textLength="30.46" lengthAdjust="spacingAndGlyphs">2</text>
<text x="1795.00" y="1622.30" font-size="64"  textLength="44.52" lengthAdjust="spacingAndGlyphs">−</text>
<text x="1841.45" y="1617.30" font-size="64"  textLength="27.87" lengthAdjust="spacingAndGlyphs">1</text>
<text x="2036.71" y="265.90" font-size="64"  textLength="107.20" lengthAdjust="spacingAndGlyphs">1.50</text>
<text x="2036.71" y="461.62" font-size="64"  textLength="107.20" lengthAdjust="spacingAndGlyphs">1.25</text>
<text x="2036.71" y="657.35" font-size="64"  textLength="107.20" lengthAdjust="spacingAndGlyphs">1.00</text>
<text x="2037.09" y="853.07" font-size="64"  textLength="106.81" lengthAdjust="spacingAndGlyphs">0.75</text>
<text x="2037.09" y="1048.80" font-size="64"  textLength="106.81" lengthAdjust="spacingAndGlyphs">0.50</text>
<text x="2037.09" y="1244.52" font-size="64"  textLength="106.81" lengthAdjust="spacingAndGlyphs">0.25</text>
<text x="2037.09" y="1440.25" font-size="64"  textLength="106.81" lengthAdjust="spacingAndGlyphs">0.00</text>
<text x="1208.35" y="1242.70" font-size="64"  textLength="263.60" lengthAdjust="spacingAndGlyphs">Gaia BH3</text>
<text x="1208.18" y="1304.50" font-size="64"  textLength="522.02" lengthAdjust="spacingAndGlyphs">main sequence radii</text>
<text x="1208.40" y="1366.10" font-size="64"  textLength="25.57" lengthAdjust="spacingAndGlyphs">z</text>
<text x="1235.34" y="1374.60" font-size="46"  textLength="64.97" lengthAdjust="spacingAndGlyphs">crit</text>
<text x="1323.04" y="1366.10" font-size="64"  textLength="442.27" lengthAdjust="spacingAndGlyphs">Schneider+ 2006</text>
<text x="1208.40" y="1427.00" font-size="64"  textLength="25.57" lengthAdjust="spacingAndGlyphs">z</text>
<text x="1235.34" y="1435.70" font-size="46"  textLength="64.97" lengthAdjust="spacingAndGlyphs">crit</text>
<text x="1326.08" y="1427.00" font-size="64"  textLength="383.81" lengthAdjust="spacingAndGlyphs">Bromm+ 2003</text>
<text x="1208.19" y="1490.70" font-size="64"  textLength="438.87" lengthAdjust="spacingAndGlyphs">minimum [Fe/H]</text>
<text x="881.88" y="1706.50" font-size="84"  textLength="198.49" lengthAdjust="spacingAndGlyphs">[Fe/H]</text>
<text x="1085.80" y="1718.90" font-size="60"  textLength="114.93" lengthAdjust="spacingAndGlyphs">birth</text>
<g transform="translate(100.4,0) rotate(-90)">
<text x="-944.62" y="0.00" font-size="84"  textLength="198.39" lengthAdjust="spacingAndGlyphs">[Fe/H]</text>
<text x="-742.43" y="12.40" font-size="60"  textLength="80.55" lengthAdjust="spacingAndGlyphs">obs</text>
</g>
<g transform="translate(2221.5,0) rotate(-90)">
<text x="-976.14" y="0.00" font-size="82"  textLength="87.81" lengthAdjust="spacingAndGlyphs">log</text>
<text x="-857.31" y="0.00" font-size="82" font-style="italic" textLength="54.80" lengthAdjust="spacingAndGlyphs">R</text>
<text x="-819.23" y="10.50" font-size="40"  textLength="46.47" lengthAdjust="spacingAndGlyphs">∗</text>
<text x="-768.70" y="0.00" font-size="82"  textLength="30.43" lengthAdjust="spacingAndGlyphs">/</text>
<text x="-728.23" y="0.00" font-size="82" font-style="italic" textLength="53.60" lengthAdjust="spacingAndGlyphs">R</text>
<text x="-675.18" y="16.10" font-size="56"  textLength="45.86" lengthAdjust="spacingAndGlyphs">⊙</text>
</g>
</svg></body></html>
